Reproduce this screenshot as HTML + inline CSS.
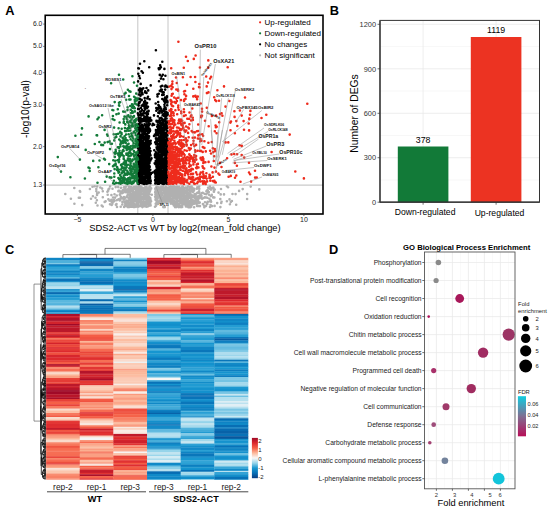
<!DOCTYPE html>
<html><head><meta charset="utf-8"><style>
html,body{margin:0;padding:0;background:#fff;width:550px;height:511px;overflow:hidden}
svg{display:block;font-family:"Liberation Sans",sans-serif}
</style></head><body>
<svg width="550" height="511" viewBox="0 0 550 511">
<rect width="550" height="511" fill="#fff"/>
<text x="5.2" y="14.9" font-size="12.8" text-anchor="start" font-weight="700" fill="#000" >A</text>
<text x="329.8" y="15.1" font-size="12.8" text-anchor="start" font-weight="700" fill="#000" >B</text>
<text x="5.0" y="254.3" font-size="12.8" text-anchor="start" font-weight="700" fill="#000" >C</text>
<text x="329.0" y="254.3" font-size="12.8" text-anchor="start" font-weight="700" fill="#000" >D</text>
<line x1="137.8" y1="15.3" x2="137.8" y2="214.0" stroke="#b8b8b8" stroke-width="0.8"/>
<line x1="168.0" y1="15.3" x2="168.0" y2="214.0" stroke="#b8b8b8" stroke-width="0.8"/>
<path d="M92.5 186.8h0M94.7 186.3h0M97.2 186.4h0M110.1 186.3h0M115.7 187.1h0M118.2 187.1h0M124.0 187.2h0M125.5 187.0h0M126.1 186.6h0M128.9 186.6h0M129.1 187.3h0M131.1 187.0h0M133.6 187.2h0M134.6 187.1h0M135.3 187.0h0M136.5 186.6h0M138.7 187.2h0M139.1 186.5h0M140.1 186.4h0M141.4 186.7h0M145.7 186.8h0M146.5 186.6h0M149.4 186.8h0M150.0 186.3h0M156.7 186.6h0M161.0 187.2h0M161.4 186.8h0M162.6 186.4h0M165.7 186.6h0M170.7 186.4h0M172.3 186.5h0M173.8 186.4h0M174.2 186.5h0M176.7 187.2h0M177.0 186.5h0M178.7 187.2h0M179.2 186.9h0M181.9 187.2h0M182.5 186.4h0M183.0 186.9h0M188.1 186.4h0M189.5 187.3h0M190.2 187.0h0M191.6 186.5h0M197.3 187.2h0M199.2 186.5h0M209.9 186.4h0M226.9 186.3h0M228.1 187.3h0M250.7 186.6h0M74.3 188.0h0M100.3 187.5h0M120.9 188.0h0M121.1 187.7h0M124.4 188.2h0M125.1 187.7h0M129.2 187.4h0M131.9 187.9h0M132.7 187.5h0M137.1 187.7h0M139.9 188.2h0M141.2 188.1h0M142.5 188.1h0M143.2 188.2h0M144.4 187.7h0M146.6 187.8h0M148.6 188.3h0M149.8 187.8h0M150.3 187.5h0M156.0 187.8h0M156.8 187.9h0M158.7 187.3h0M159.4 187.6h0M160.6 188.0h0M161.5 188.1h0M163.0 187.3h0M163.8 187.5h0M164.2 188.3h0M166.5 187.5h0M167.2 188.0h0M168.3 187.9h0M169.3 187.4h0M171.7 187.6h0M172.6 187.6h0M173.8 187.4h0M174.0 187.8h0M175.5 187.5h0M176.3 188.0h0M179.9 188.2h0M181.0 188.3h0M181.8 188.0h0M184.8 188.0h0M186.0 188.0h0M186.0 187.5h0M191.2 187.4h0M192.4 187.7h0M208.1 187.8h0M211.9 188.0h0M213.3 187.6h0M89.9 189.0h0M96.3 189.0h0M102.1 188.6h0M109.3 188.6h0M112.5 188.8h0M125.0 189.0h0M126.0 189.2h0M128.3 188.8h0M131.0 188.9h0M133.9 188.9h0M134.2 189.1h0M135.9 189.2h0M136.4 189.1h0M138.5 188.4h0M139.1 188.7h0M140.9 189.1h0M142.9 188.6h0M143.5 189.3h0M144.1 188.7h0M145.7 188.5h0M146.2 188.8h0M147.3 188.8h0M149.7 188.7h0M151.1 188.4h0M155.3 188.5h0M156.8 188.4h0M158.0 188.6h0M158.9 188.7h0M160.6 189.1h0M161.8 189.3h0M163.7 189.2h0M164.0 188.5h0M165.1 188.5h0M168.0 189.1h0M169.2 188.4h0M170.5 188.9h0M171.5 188.7h0M173.8 188.9h0M175.3 188.8h0M176.6 189.3h0M177.2 188.4h0M179.0 188.7h0M183.0 189.3h0M183.2 188.9h0M184.2 189.1h0M187.0 188.9h0M188.8 189.2h0M189.5 189.1h0M192.1 188.7h0M193.4 188.7h0M194.1 188.9h0M196.7 188.7h0M197.9 188.4h0M199.3 188.7h0M210.2 189.0h0M213.6 188.4h0M221.0 189.0h0M242.7 189.1h0M108.5 189.3h0M122.9 190.1h0M129.1 189.6h0M131.0 189.8h0M132.4 190.0h0M133.5 189.8h0M136.1 190.0h0M137.0 189.4h0M138.9 189.8h0M140.7 189.8h0M142.3 190.1h0M147.7 190.0h0M148.0 190.2h0M150.4 189.4h0M155.4 189.3h0M159.7 190.2h0M160.3 189.4h0M161.1 189.9h0M162.7 190.1h0M163.0 189.7h0M164.7 189.6h0M166.5 190.0h0M170.1 189.3h0M171.7 189.5h0M172.2 189.9h0M175.1 189.5h0M176.3 189.7h0M177.9 189.7h0M178.3 189.9h0M179.5 189.8h0M181.9 189.6h0M182.4 189.3h0M186.9 190.1h0M188.3 190.0h0M190.0 190.3h0M192.5 189.5h0M194.0 189.4h0M207.3 190.2h0M211.0 189.6h0M213.8 190.0h0M214.8 189.5h0M259.3 189.4h0M79.8 191.1h0M96.3 191.1h0M102.8 191.2h0M108.2 190.8h0M118.6 190.7h0M119.3 190.9h0M125.2 191.1h0M127.3 190.9h0M128.2 190.8h0M129.3 190.8h0M130.4 191.1h0M131.4 190.8h0M136.5 190.4h0M138.1 190.9h0M139.7 190.6h0M141.1 190.8h0M143.1 190.7h0M144.4 190.7h0M146.3 190.8h0M148.1 190.5h0M150.0 190.9h0M150.2 190.6h0M156.6 191.0h0M158.2 190.7h0M159.2 190.3h0M161.5 190.6h0M165.8 190.7h0M166.6 190.4h0M168.8 190.7h0M169.8 190.4h0M171.3 190.3h0M172.9 191.1h0M173.8 190.6h0M174.4 190.7h0M175.5 191.0h0M177.4 190.9h0M178.1 190.3h0M180.1 191.1h0M182.1 191.2h0M183.1 191.0h0M185.0 191.2h0M185.8 190.5h0M187.2 191.0h0M189.8 190.7h0M190.7 191.0h0M191.2 191.0h0M193.4 191.2h0M194.0 190.4h0M199.1 191.2h0M206.9 190.8h0M207.8 190.4h0M239.1 190.9h0M80.2 191.8h0M107.4 191.7h0M118.3 191.3h0M120.2 191.4h0M121.9 191.4h0M125.9 192.3h0M128.8 191.7h0M129.6 191.4h0M132.9 192.2h0M133.6 192.1h0M134.2 192.3h0M135.9 191.8h0M141.3 192.1h0M144.3 192.0h0M145.1 192.0h0M146.8 192.0h0M148.0 191.5h0M148.7 191.3h0M149.6 192.2h0M155.3 191.5h0M156.6 192.0h0M157.9 191.9h0M159.9 192.1h0M160.6 192.2h0M161.1 191.3h0M164.6 191.8h0M165.7 191.4h0M166.5 191.7h0M169.5 191.9h0M171.3 192.2h0M172.5 192.2h0M173.9 191.8h0M174.5 191.7h0M175.9 192.1h0M176.3 191.4h0M177.8 191.8h0M180.9 191.8h0M181.7 191.7h0M182.8 192.2h0M183.7 192.0h0M184.4 192.2h0M185.3 191.8h0M186.8 192.3h0M187.5 192.3h0M190.6 191.7h0M192.9 191.9h0M198.3 192.2h0M199.1 192.1h0M206.4 191.3h0M208.8 192.0h0M213.8 191.7h0M214.0 191.8h0M97.2 193.2h0M98.7 192.5h0M122.3 193.1h0M123.4 192.4h0M127.4 192.5h0M132.8 192.6h0M133.7 193.2h0M134.9 193.2h0M135.3 192.8h0M136.2 192.6h0M137.7 192.6h0M138.8 192.7h0M139.1 192.7h0M140.7 192.7h0M141.4 193.1h0M143.9 192.3h0M144.7 193.1h0M145.1 192.6h0M146.3 192.8h0M147.4 192.8h0M148.0 192.5h0M155.2 192.4h0M157.0 192.3h0M157.7 192.7h0M158.2 192.7h0M160.9 193.1h0M162.8 193.2h0M163.1 192.7h0M164.1 193.2h0M166.3 192.9h0M167.5 193.0h0M168.0 192.6h0M170.9 193.1h0M171.0 192.7h0M172.4 192.4h0M174.3 192.7h0M176.7 192.5h0M177.8 193.0h0M178.9 192.7h0M179.8 192.9h0M181.7 192.8h0M183.2 193.2h0M186.3 192.4h0M187.4 192.3h0M188.3 192.9h0M197.3 192.9h0M198.9 193.1h0M202.7 192.7h0M207.6 192.6h0M218.5 192.6h0M65.3 194.0h0M97.4 193.5h0M114.5 194.3h0M120.4 193.7h0M129.3 194.2h0M130.4 193.4h0M132.0 193.4h0M135.9 193.4h0M136.4 193.6h0M137.6 194.3h0M139.4 193.5h0M140.3 193.9h0M141.6 193.9h0M142.3 194.0h0M143.1 193.5h0M144.8 194.1h0M145.8 193.7h0M146.8 193.8h0M147.2 193.6h0M148.5 193.6h0M149.4 194.2h0M155.4 194.2h0M156.8 193.9h0M157.7 194.2h0M158.3 194.0h0M161.3 193.5h0M162.3 193.9h0M163.8 193.3h0M165.7 193.4h0M166.6 193.3h0M167.6 194.3h0M168.8 194.2h0M169.7 193.7h0M170.7 193.4h0M171.7 193.6h0M172.5 193.9h0M173.4 193.9h0M174.2 194.2h0M175.5 193.3h0M177.8 193.7h0M179.1 194.3h0M181.6 193.3h0M183.1 193.9h0M184.6 193.6h0M187.0 193.7h0M189.7 193.5h0M194.7 194.0h0M195.8 194.1h0M201.5 193.3h0M204.5 193.8h0M206.3 194.2h0M232.5 194.0h0M235.6 194.1h0M247.2 194.1h0M97.0 195.0h0M107.7 194.7h0M111.4 195.1h0M119.8 194.7h0M120.0 195.0h0M127.8 195.0h0M131.9 194.3h0M133.7 194.7h0M134.5 194.6h0M135.2 195.0h0M136.5 194.7h0M138.1 194.7h0M140.3 194.4h0M141.7 194.3h0M143.2 194.8h0M144.1 194.4h0M146.8 194.7h0M148.3 194.7h0M151.8 194.7h0M155.6 194.8h0M157.5 195.2h0M159.1 194.6h0M160.6 194.4h0M161.7 194.7h0M165.1 194.8h0M166.9 195.1h0M167.3 194.6h0M169.4 195.1h0M173.2 195.2h0M174.6 194.8h0M177.3 195.0h0M178.9 194.3h0M179.3 194.9h0M180.6 194.5h0M181.4 194.6h0M182.1 194.6h0M186.9 194.7h0M188.7 195.3h0M190.2 194.7h0M191.3 194.6h0M194.7 195.0h0M200.6 194.8h0M209.1 194.8h0M211.8 194.9h0M220.7 194.4h0M224.0 194.4h0M92.9 196.3h0M116.8 195.5h0M127.4 195.6h0M130.3 195.6h0M132.2 196.0h0M133.5 195.7h0M134.1 195.5h0M136.5 195.7h0M138.7 196.3h0M139.1 195.3h0M140.3 196.2h0M145.0 195.6h0M147.2 195.5h0M148.0 195.6h0M155.5 196.0h0M157.1 195.9h0M158.9 196.2h0M159.9 195.7h0M160.5 195.5h0M161.7 195.5h0M162.5 195.4h0M166.2 195.6h0M168.1 195.9h0M169.0 196.1h0M170.6 195.6h0M171.1 196.0h0M172.7 195.4h0M173.8 195.7h0M175.9 195.6h0M176.8 195.6h0M177.8 196.3h0M178.8 195.9h0M180.6 196.0h0M181.2 195.3h0M183.0 195.6h0M183.3 195.7h0M185.3 196.1h0M189.9 195.9h0M192.0 195.5h0M193.2 196.0h0M194.5 195.3h0M195.4 195.8h0M200.0 195.7h0M201.5 195.9h0M210.8 196.1h0M102.8 197.2h0M120.9 196.9h0M121.3 197.2h0M124.0 197.0h0M126.6 196.7h0M127.5 197.1h0M129.0 197.2h0M129.9 196.9h0M132.5 196.7h0M133.7 196.8h0M134.6 196.6h0M135.7 196.8h0M137.3 196.9h0M138.9 196.8h0M140.5 196.7h0M141.6 197.1h0M143.4 196.5h0M145.0 196.8h0M145.3 197.2h0M147.1 196.4h0M149.1 196.8h0M155.1 196.7h0M157.7 196.9h0M159.6 196.3h0M160.9 197.1h0M163.8 196.9h0M164.9 196.4h0M165.4 196.7h0M166.7 196.6h0M168.0 196.4h0M170.5 196.6h0M173.5 197.2h0M174.9 196.7h0M175.6 196.7h0M177.9 196.5h0M178.7 197.2h0M180.3 196.9h0M181.5 197.3h0M184.0 196.4h0M185.0 197.3h0M186.6 196.7h0M187.9 196.6h0M188.3 196.5h0M191.0 197.2h0M193.0 196.8h0M193.2 196.6h0M196.0 197.1h0M196.6 196.4h0M197.2 197.1h0M198.5 196.4h0M200.9 196.4h0M78.8 197.7h0M79.9 197.7h0M95.5 197.8h0M113.1 197.5h0M115.1 197.6h0M120.6 198.3h0M121.3 198.1h0M123.1 197.7h0M124.0 197.4h0M125.4 197.7h0M128.7 198.2h0M129.9 197.4h0M130.1 198.1h0M131.9 197.4h0M132.8 198.0h0M133.0 198.0h0M134.5 198.1h0M136.1 198.3h0M137.3 198.3h0M138.2 197.9h0M141.0 197.3h0M141.2 198.3h0M143.3 197.5h0M145.8 197.9h0M147.9 198.0h0M150.2 197.7h0M155.7 198.1h0M156.5 198.1h0M157.9 197.5h0M158.2 197.8h0M160.0 197.5h0M160.6 197.4h0M161.7 198.0h0M165.9 197.4h0M166.7 197.5h0M169.3 198.0h0M173.0 197.7h0M175.4 197.8h0M176.8 198.1h0M178.4 197.4h0M181.8 198.2h0M182.7 198.2h0M183.7 198.2h0M184.5 197.5h0M185.4 198.2h0M187.6 197.7h0M188.5 197.7h0M189.6 197.7h0M190.6 197.5h0M194.6 198.0h0M195.7 197.9h0M197.3 197.7h0M199.5 198.2h0M200.6 197.5h0M203.5 198.0h0M204.9 197.4h0M206.5 197.5h0M207.3 197.8h0M213.2 197.4h0M214.4 197.5h0M70.9 198.7h0M91.0 198.8h0M123.4 199.1h0M130.3 199.0h0M133.6 199.0h0M134.9 198.7h0M136.5 198.7h0M137.4 198.4h0M138.4 199.0h0M139.3 198.3h0M141.6 198.8h0M142.6 198.9h0M143.8 199.3h0M144.4 198.3h0M145.2 198.6h0M146.4 198.9h0M147.9 198.8h0M150.3 199.2h0M155.9 198.9h0M156.8 198.9h0M157.8 198.5h0M162.8 198.9h0M164.5 199.1h0M165.8 198.8h0M166.8 199.1h0M168.5 199.1h0M169.2 198.6h0M170.5 198.3h0M171.1 198.7h0M172.8 198.8h0M174.9 198.5h0M176.3 199.1h0M177.4 198.9h0M182.2 199.3h0M183.3 198.4h0M184.8 198.7h0M185.8 198.9h0M186.5 199.0h0M187.9 198.9h0M190.8 198.7h0M191.5 198.7h0M195.6 198.9h0M197.8 198.3h0M202.1 198.7h0M209.4 198.7h0M220.3 199.1h0M247.1 199.0h0M108.4 199.3h0M111.4 199.7h0M113.9 200.1h0M118.5 199.4h0M120.5 199.5h0M123.9 199.6h0M124.3 199.3h0M129.8 200.0h0M131.2 200.2h0M132.2 199.6h0M134.2 200.0h0M137.1 199.3h0M139.8 199.9h0M141.0 199.7h0M143.5 199.9h0M145.9 199.3h0M146.5 200.0h0M147.1 199.9h0M148.6 199.7h0M149.8 200.0h0M150.5 199.3h0M155.5 199.8h0M156.9 199.9h0M157.2 199.8h0M160.4 199.8h0M161.2 199.9h0M162.8 199.9h0M164.4 200.0h0M166.7 199.6h0M167.7 199.9h0M169.0 200.0h0M170.2 199.8h0M171.1 200.0h0M172.3 200.0h0M176.5 199.6h0M177.3 200.2h0M180.0 199.4h0M181.9 199.5h0M182.9 199.7h0M184.0 199.6h0M185.0 199.3h0M190.8 199.7h0M191.2 199.3h0M195.5 199.6h0M198.0 199.4h0M229.5 199.4h0M96.9 200.3h0M105.6 201.2h0M109.5 200.6h0M112.0 200.4h0M114.3 201.1h0M116.7 200.3h0M119.8 200.5h0M126.5 200.5h0M128.1 200.8h0M130.7 201.0h0M132.9 200.8h0M133.6 200.9h0M135.8 200.8h0M137.9 200.9h0M138.1 201.2h0M140.5 200.5h0M143.5 201.0h0M146.0 201.3h0M146.5 201.1h0M147.1 200.5h0M150.7 201.1h0M151.1 201.2h0M156.4 200.6h0M157.6 201.0h0M159.9 201.0h0M161.6 201.1h0M163.7 200.5h0M165.8 200.8h0M166.0 200.5h0M167.1 201.2h0M168.9 200.5h0M169.5 200.9h0M170.2 200.4h0M171.3 200.4h0M174.1 200.9h0M176.6 200.4h0M177.3 200.5h0M178.4 201.3h0M179.7 200.8h0M180.8 200.5h0M182.1 201.0h0M184.6 201.2h0M185.1 200.6h0M186.4 201.1h0M187.1 200.4h0M190.0 201.1h0M191.2 200.3h0M192.9 200.3h0M194.0 201.1h0M197.3 200.3h0M198.2 201.0h0M209.9 201.2h0M210.7 200.4h0M226.9 201.2h0M231.9 201.0h0M104.7 201.9h0M111.4 201.6h0M113.1 201.8h0M122.4 201.9h0M124.7 201.9h0M130.9 202.1h0M131.5 201.6h0M132.7 201.7h0M133.3 202.1h0M135.5 201.3h0M136.6 201.9h0M137.1 202.1h0M138.4 201.6h0M139.9 202.1h0M141.6 201.7h0M142.1 202.2h0M143.9 202.0h0M145.0 201.8h0M145.5 201.5h0M147.1 201.7h0M149.0 201.5h0M150.4 202.1h0M156.6 201.9h0M157.5 201.6h0M160.7 201.7h0M161.9 201.9h0M163.5 201.6h0M165.2 201.9h0M167.0 201.9h0M167.1 201.8h0M168.6 201.5h0M169.1 201.5h0M172.3 202.0h0M174.8 201.8h0M175.7 201.5h0M176.6 201.5h0M180.9 202.2h0M182.6 201.8h0M185.9 202.1h0M186.1 201.9h0M187.0 201.6h0M188.9 201.8h0M189.0 201.4h0M190.7 201.4h0M192.5 202.0h0M193.9 202.1h0M194.7 201.8h0M196.9 201.4h0M207.7 201.9h0M211.1 201.8h0M221.6 201.8h0M230.8 201.9h0M95.8 202.8h0M126.5 202.4h0M128.8 202.5h0M130.4 202.7h0M131.1 202.4h0M133.3 202.7h0M136.7 203.3h0M138.0 203.0h0M138.1 203.1h0M140.1 202.5h0M141.9 202.9h0M142.9 202.5h0M143.8 202.7h0M145.3 202.8h0M147.0 202.7h0M156.4 203.1h0M157.8 202.5h0M160.2 202.6h0M161.9 202.4h0M162.8 202.3h0M170.9 202.6h0M171.5 202.3h0M172.8 202.6h0M174.7 203.3h0M175.5 202.3h0M180.5 202.5h0M181.8 203.2h0M182.1 202.8h0M183.8 202.9h0M184.2 203.3h0M186.8 202.6h0M188.0 202.9h0M189.4 202.6h0M190.3 202.7h0M191.7 202.8h0M193.0 202.4h0M194.4 202.5h0M195.7 203.2h0M196.0 203.0h0M197.0 202.5h0M198.6 202.8h0M199.8 202.6h0M205.0 202.3h0M207.2 202.9h0M217.2 203.1h0M221.2 203.0h0M74.4 203.7h0M110.0 204.2h0M112.4 203.8h0M116.5 204.0h0M124.9 203.4h0M126.7 203.4h0M128.5 204.2h0M129.8 203.8h0M130.5 203.7h0M132.6 203.5h0M133.8 203.9h0M135.9 204.2h0M137.7 203.4h0M141.0 203.8h0M141.3 204.1h0M143.0 204.0h0M146.1 203.5h0M148.1 204.1h0M149.1 203.4h0M150.4 204.0h0M155.7 203.7h0M156.2 204.3h0M157.9 203.9h0M170.8 203.6h0M172.9 203.9h0M173.8 204.2h0M174.0 203.3h0M175.5 203.6h0M177.0 203.5h0M178.3 204.0h0M179.5 203.8h0M183.3 203.9h0M185.5 203.4h0M186.2 203.5h0M187.0 204.3h0M188.7 203.6h0M190.2 204.0h0M191.5 203.7h0M194.1 203.7h0M196.6 204.0h0M202.9 204.0h0M207.3 204.0h0M229.9 204.2h0M82.2 205.1h0M111.7 204.9h0M115.9 204.7h0M122.3 204.5h0M125.4 204.9h0M126.1 204.6h0M128.8 204.4h0M129.8 205.2h0M131.1 204.6h0M132.2 204.3h0M133.0 204.6h0M135.4 204.6h0M136.5 204.4h0M137.0 204.9h0M138.1 204.7h0M139.9 205.2h0M141.6 204.7h0M143.4 204.5h0M144.9 204.4h0M145.8 204.5h0M150.0 204.7h0M175.8 204.4h0M176.8 204.3h0M178.0 205.1h0M184.7 204.5h0M187.6 204.4h0M188.3 204.4h0M189.6 204.4h0M191.2 205.3h0M192.3 204.6h0M210.5 205.1h0M236.2 204.8h0M97.5 205.5h0M101.7 205.6h0M125.8 206.0h0M126.4 206.2h0M127.8 206.1h0M129.7 206.3h0M131.7 206.0h0M132.4 206.2h0M134.9 206.0h0M135.5 205.8h0M137.7 206.1h0M138.9 206.1h0M139.4 206.0h0M140.8 205.9h0M142.1 205.6h0M144.1 205.6h0M145.2 206.2h0M148.5 206.0h0M149.9 205.3h0M150.6 205.4h0M155.9 205.9h0M156.0 205.8h0M173.8 205.5h0M175.1 205.9h0M176.8 206.0h0M177.8 206.2h0M178.5 206.1h0M179.1 205.4h0M181.6 205.6h0M182.2 205.8h0M186.7 206.1h0M190.9 205.6h0M197.0 205.9h0M198.5 205.9h0M200.0 206.1h0M203.9 205.5h0M206.0 205.9h0M212.0 206.1h0M214.6 205.9h0M102.8 206.5h0M117.0 206.9h0M120.7 206.8h0M124.1 206.9h0M127.3 206.4h0M128.0 207.1h0M129.4 206.9h0M130.7 206.8h0M132.1 206.6h0M133.5 206.9h0M134.8 206.9h0M136.7 206.6h0M138.5 206.6h0M142.4 207.1h0M143.4 206.3h0M146.4 206.7h0M147.7 206.4h0M155.0 206.7h0M163.3 207.1h0M164.8 207.1h0M175.0 207.1h0M176.1 207.1h0M177.2 206.5h0M178.6 207.1h0M179.8 206.5h0M180.4 207.0h0M181.1 207.1h0M182.2 207.0h0M185.9 206.5h0M187.7 206.5h0M188.4 207.2h0M189.3 206.9h0M190.3 207.2h0M191.2 206.8h0M194.1 207.3h0M204.3 207.2h0M210.0 207.0h0M220.4 207.1h0" stroke="#b0b0b0" stroke-width="2.6" stroke-linecap="round" fill="none"/>
<line x1="45.2" y1="185.1" x2="323.0" y2="185.1" stroke="#bdbdbd" stroke-width="1"/>
<path d="M144.3 61.2h0M140.0 63.8h0M160.2 65.4h0M149.2 67.3h0M160.5 67.5h0M160.9 67.2h0M138.3 68.3h0M158.7 68.2h0M164.4 68.9h0M159.0 69.3h0M142.9 72.7h0M138.3 73.8h0M159.8 74.9h0M162.8 74.8h0M165.4 75.7h0M139.2 76.1h0M161.7 76.2h0M139.9 78.3h0M160.9 78.6h0M163.4 79.2h0M138.1 81.4h0M159.0 81.3h0M140.7 83.9h0M150.7 85.4h0M162.2 85.8h0M165.6 85.6h0M160.8 86.6h0M164.8 86.5h0M166.5 86.6h0M167.5 86.9h0M146.5 88.0h0M139.8 88.5h0M140.9 88.9h0M143.3 88.3h0M138.9 90.0h0M142.2 89.4h0M161.0 89.5h0M162.0 89.7h0M165.2 89.6h0M141.0 90.5h0M141.8 90.6h0M148.2 90.4h0M159.8 90.7h0M139.7 91.9h0M145.2 91.3h0M160.9 91.1h0M142.2 92.8h0M145.2 92.4h0M146.5 92.9h0M162.6 92.2h0M163.7 92.4h0M158.8 93.8h0M138.8 94.5h0M140.6 94.4h0M142.6 94.3h0M157.4 94.5h0M162.2 94.9h0M163.7 94.7h0M140.5 95.7h0M148.0 96.8h0M157.5 96.5h0M167.0 96.2h0M165.0 97.6h0M167.0 97.1h0M138.9 98.8h0M139.8 98.9h0M144.7 98.1h0M147.3 98.4h0M162.3 99.0h0M166.2 98.0h0M141.7 99.9h0M149.6 99.3h0M163.7 99.9h0M164.9 99.6h0M166.4 99.1h0M145.0 100.8h0M139.4 102.0h0M140.1 101.7h0M164.1 101.3h0M166.0 101.7h0M167.4 101.4h0M139.7 102.6h0M144.0 102.1h0M146.1 102.7h0M158.2 102.0h0M165.1 102.7h0M167.4 102.4h0M138.9 103.2h0M146.0 103.1h0M147.1 103.1h0M155.7 103.5h0M138.1 104.8h0M143.3 104.2h0M144.8 104.1h0M164.4 104.7h0M138.7 105.6h0M141.7 105.5h0M142.9 105.8h0M145.5 105.7h0M146.3 105.1h0M158.4 105.0h0M159.0 105.8h0M167.2 105.2h0M144.9 106.3h0M148.0 106.7h0M164.6 106.8h0M140.9 107.8h0M144.6 107.9h0M147.1 107.2h0M158.1 107.7h0M160.3 107.4h0M165.6 107.8h0M138.1 108.9h0M147.1 108.1h0M156.3 108.0h0M158.8 108.6h0M161.2 108.7h0M164.5 108.7h0M165.1 108.0h0M139.1 109.1h0M142.1 109.9h0M145.1 109.4h0M157.0 109.5h0M161.4 109.5h0M164.2 109.0h0M165.8 109.3h0M148.6 110.7h0M156.3 110.7h0M161.1 110.7h0M162.3 110.7h0M164.3 110.8h0M140.1 111.8h0M140.9 111.2h0M143.8 111.3h0M146.9 111.7h0M148.6 111.2h0M159.4 111.1h0M164.4 111.2h0M143.6 112.4h0M158.3 112.8h0M162.0 112.6h0M164.8 112.8h0M164.8 112.8h0M166.4 112.0h0M167.6 113.0h0M137.8 113.2h0M140.6 113.4h0M141.4 114.0h0M142.6 113.9h0M143.3 113.7h0M145.4 113.2h0M146.2 113.1h0M147.5 113.5h0M148.0 113.9h0M159.5 113.1h0M166.8 113.4h0M166.9 113.4h0M138.1 114.7h0M139.8 114.7h0M140.3 114.9h0M141.0 114.1h0M143.0 115.0h0M147.0 114.6h0M164.1 114.1h0M165.5 114.4h0M166.1 114.2h0M167.7 114.8h0M141.6 115.5h0M147.1 115.2h0M154.0 115.4h0M162.6 115.3h0M166.1 116.0h0M166.8 115.5h0M144.4 116.5h0M145.0 116.7h0M146.4 116.9h0M146.9 116.0h0M157.9 116.2h0M164.1 116.0h0M165.2 116.1h0M165.9 116.5h0M138.6 117.3h0M140.5 117.9h0M144.2 117.9h0M145.8 117.1h0M147.6 117.0h0M150.2 117.9h0M161.3 117.9h0M165.5 117.4h0M138.7 118.5h0M139.7 118.3h0M141.6 118.8h0M146.5 118.7h0M148.3 118.3h0M149.2 118.9h0M159.7 118.3h0M161.9 118.9h0M166.6 118.5h0M138.5 119.8h0M140.0 119.5h0M143.5 119.1h0M144.4 119.6h0M164.5 119.2h0M165.0 119.9h0M140.9 120.6h0M142.6 120.6h0M143.8 120.9h0M143.9 120.5h0M145.9 120.8h0M147.6 120.7h0M150.0 120.5h0M151.3 120.4h0M156.5 120.8h0M158.8 120.5h0M159.9 120.7h0M161.8 120.1h0M163.3 120.2h0M164.0 120.4h0M165.4 120.8h0M139.2 121.0h0M140.4 121.5h0M141.8 121.4h0M142.6 121.1h0M145.2 121.3h0M146.3 121.7h0M147.8 121.5h0M150.2 121.3h0M156.6 121.4h0M157.0 121.5h0M159.8 121.2h0M165.4 121.3h0M167.1 121.5h0M140.3 122.2h0M148.6 122.8h0M157.7 122.2h0M159.3 122.6h0M160.3 122.8h0M162.1 122.6h0M163.2 122.2h0M167.0 122.8h0M139.8 123.1h0M149.8 124.0h0M152.8 123.8h0M160.1 123.1h0M163.1 123.5h0M165.5 123.9h0M165.9 123.3h0M167.5 123.4h0M138.0 124.6h0M139.0 124.1h0M141.8 124.5h0M144.5 124.4h0M146.6 124.2h0M147.3 125.0h0M148.7 124.6h0M149.2 125.0h0M154.2 124.7h0M157.7 124.7h0M161.1 124.3h0M163.0 124.8h0M163.8 124.7h0M138.2 125.8h0M139.7 125.6h0M140.0 125.6h0M144.5 125.2h0M145.7 125.9h0M146.9 125.5h0M152.4 125.2h0M159.3 125.5h0M160.4 125.5h0M162.3 125.3h0M163.5 125.6h0M164.5 125.8h0M139.9 126.7h0M141.4 126.7h0M142.2 126.1h0M142.9 126.9h0M146.0 126.9h0M148.4 126.4h0M157.2 126.7h0M158.9 126.3h0M160.9 126.1h0M165.0 127.0h0M166.8 126.1h0M138.0 127.9h0M145.9 127.4h0M147.4 127.7h0M148.6 127.9h0M158.5 127.2h0M159.7 127.0h0M160.5 127.5h0M160.9 128.0h0M163.8 127.1h0M165.4 127.5h0M166.1 127.8h0M138.4 128.8h0M139.1 128.2h0M140.0 128.5h0M141.3 128.1h0M142.0 128.3h0M143.1 128.7h0M144.6 128.9h0M145.3 128.3h0M145.8 128.1h0M149.6 128.9h0M158.2 128.7h0M162.3 128.1h0M164.6 128.6h0M167.3 128.1h0M139.7 129.6h0M140.9 129.8h0M142.4 129.8h0M146.6 129.1h0M147.7 129.4h0M149.0 129.2h0M157.7 129.5h0M158.8 129.6h0M161.5 129.9h0M162.3 129.2h0M165.2 129.1h0M166.2 129.5h0M137.9 130.1h0M141.9 130.4h0M143.2 130.6h0M144.5 130.4h0M145.1 130.5h0M147.6 130.3h0M148.6 130.0h0M149.6 130.6h0M150.1 130.2h0M155.9 130.0h0M156.8 130.6h0M158.6 130.5h0M158.8 130.5h0M160.1 130.1h0M163.8 130.1h0M164.2 130.6h0M138.9 131.2h0M141.4 131.4h0M142.1 131.1h0M143.1 131.1h0M144.4 131.4h0M145.0 131.7h0M146.4 131.1h0M147.0 131.1h0M149.1 131.1h0M149.9 131.2h0M156.0 131.7h0M157.5 131.4h0M158.1 131.3h0M159.2 131.7h0M161.0 132.0h0M161.9 131.5h0M163.2 131.2h0M167.4 131.3h0M139.0 132.8h0M144.3 132.4h0M148.9 132.7h0M156.2 132.1h0M157.7 132.5h0M157.9 132.8h0M160.2 132.4h0M162.6 132.4h0M163.2 132.9h0M165.7 132.7h0M167.2 132.8h0M139.2 133.3h0M142.4 133.8h0M143.5 133.5h0M144.1 133.1h0M145.0 133.5h0M147.9 133.1h0M155.9 133.7h0M157.7 133.7h0M158.2 133.6h0M160.8 133.7h0M161.3 133.8h0M162.3 133.9h0M163.4 133.1h0M164.6 133.2h0M165.6 133.8h0M138.2 134.4h0M139.1 134.5h0M140.7 135.0h0M141.9 135.0h0M144.0 134.2h0M146.0 134.0h0M154.8 134.5h0M157.8 134.9h0M160.5 134.4h0M162.9 134.9h0M163.8 134.5h0M165.0 134.5h0M166.8 134.3h0M167.0 134.9h0M138.7 135.1h0M140.6 135.7h0M141.3 135.9h0M142.2 135.9h0M143.2 135.4h0M146.3 135.4h0M147.5 135.4h0M156.1 135.5h0M161.4 135.7h0M164.5 135.1h0M165.4 135.9h0M167.4 135.4h0M138.5 136.1h0M138.9 136.9h0M140.7 136.2h0M143.7 136.8h0M143.9 136.3h0M145.5 136.8h0M147.6 136.4h0M148.0 136.5h0M149.1 136.2h0M154.0 136.0h0M159.4 136.3h0M160.5 136.6h0M161.5 136.1h0M163.6 136.6h0M164.6 136.4h0M165.1 136.4h0M166.2 136.6h0M139.5 137.7h0M139.9 137.3h0M140.9 137.3h0M142.3 137.7h0M142.9 137.5h0M144.4 137.1h0M146.7 137.4h0M148.9 137.8h0M158.6 137.9h0M159.8 137.9h0M160.5 137.0h0M161.4 137.4h0M164.4 137.4h0M164.8 137.5h0M140.2 138.6h0M141.0 138.5h0M143.7 138.7h0M145.3 138.3h0M147.0 138.1h0M148.2 138.0h0M155.9 138.2h0M157.1 139.0h0M159.7 138.2h0M160.8 138.5h0M161.6 138.9h0M163.8 138.0h0M163.8 138.2h0M166.5 138.5h0M167.5 138.8h0M138.2 139.4h0M139.4 139.7h0M140.2 139.2h0M143.5 139.8h0M144.8 139.0h0M146.4 139.1h0M147.3 139.7h0M156.1 139.7h0M157.9 139.7h0M159.1 139.2h0M161.5 139.6h0M163.1 139.4h0M163.9 139.8h0M167.7 139.2h0M138.3 140.6h0M139.4 140.4h0M141.0 140.7h0M142.7 140.4h0M143.2 140.4h0M145.8 140.5h0M146.8 140.1h0M147.1 140.7h0M148.8 140.6h0M150.7 140.7h0M156.8 140.9h0M159.0 140.9h0M160.7 140.4h0M163.6 140.3h0M165.6 140.1h0M166.7 141.0h0M167.6 140.9h0M139.0 141.3h0M140.0 142.0h0M141.9 141.4h0M146.7 141.3h0M147.0 141.5h0M157.6 141.3h0M161.0 141.9h0M162.8 141.4h0M163.3 141.3h0M165.0 141.4h0M166.4 141.9h0M137.9 142.4h0M143.4 142.5h0M145.8 142.2h0M149.2 142.7h0M150.0 142.0h0M155.2 142.4h0M156.6 142.3h0M156.8 142.9h0M160.2 142.2h0M163.5 142.5h0M164.5 142.6h0M165.4 142.0h0M166.5 142.1h0M167.1 142.4h0M138.8 143.1h0M139.5 143.5h0M140.8 143.9h0M141.1 143.5h0M144.7 144.0h0M144.8 143.6h0M146.9 143.8h0M148.3 143.7h0M148.9 143.5h0M150.7 143.4h0M158.2 143.9h0M160.6 143.9h0M161.8 143.3h0M167.3 143.5h0M138.7 144.9h0M142.8 144.3h0M145.7 144.1h0M145.9 144.9h0M148.7 144.7h0M149.7 144.5h0M156.0 144.2h0M157.0 144.6h0M158.0 144.0h0M159.1 144.0h0M160.7 144.8h0M162.8 144.3h0M163.3 144.9h0M164.2 144.4h0M165.5 144.9h0M166.8 144.1h0M138.1 145.7h0M139.0 145.6h0M141.2 145.0h0M142.4 145.1h0M143.2 145.3h0M145.1 145.5h0M147.4 145.7h0M159.5 145.9h0M160.2 145.4h0M161.6 145.8h0M167.7 145.1h0M139.0 146.5h0M140.2 146.7h0M141.5 146.4h0M142.8 146.4h0M142.8 146.0h0M144.3 146.6h0M145.6 146.3h0M146.7 146.5h0M147.0 146.1h0M148.0 146.7h0M148.9 146.6h0M157.6 146.9h0M158.4 146.6h0M159.5 146.7h0M161.6 146.0h0M163.1 146.5h0M164.5 146.3h0M165.3 146.1h0M167.2 147.0h0M138.9 148.0h0M143.3 147.7h0M144.7 147.8h0M145.4 147.1h0M145.8 147.5h0M148.1 147.3h0M156.6 147.2h0M157.7 147.1h0M158.9 147.4h0M159.9 147.2h0M161.1 147.3h0M163.8 147.2h0M166.4 147.8h0M137.9 148.2h0M140.0 148.7h0M141.5 148.3h0M141.9 148.0h0M143.7 148.6h0M145.2 148.8h0M146.5 148.4h0M147.2 148.5h0M149.9 148.2h0M156.8 148.3h0M157.6 148.5h0M159.7 148.7h0M160.4 148.6h0M161.3 148.8h0M162.9 148.5h0M163.9 148.6h0M166.3 148.0h0M167.6 149.0h0M138.9 149.3h0M140.5 149.1h0M141.4 149.8h0M142.0 149.1h0M143.0 149.5h0M145.4 149.6h0M146.4 149.8h0M147.3 149.6h0M148.5 149.0h0M157.2 149.6h0M158.6 149.7h0M158.9 149.6h0M160.4 149.4h0M161.1 149.0h0M162.4 149.5h0M165.3 149.1h0M138.9 150.1h0M140.1 150.9h0M141.0 150.2h0M142.3 150.2h0M143.2 150.9h0M143.8 150.3h0M145.8 150.9h0M147.3 151.0h0M148.1 150.6h0M149.2 150.5h0M154.3 150.3h0M159.5 150.2h0M161.4 150.5h0M162.7 150.4h0M163.9 150.7h0M166.7 150.9h0M138.3 151.2h0M139.3 151.6h0M140.7 151.5h0M142.8 151.3h0M144.6 151.2h0M144.9 151.7h0M145.9 151.0h0M146.9 151.3h0M147.8 151.2h0M150.5 151.1h0M158.4 151.3h0M159.2 151.5h0M161.8 151.6h0M162.6 151.5h0M163.3 151.3h0M164.1 151.7h0M165.3 151.3h0M165.9 152.0h0M167.3 151.9h0M138.7 152.4h0M142.3 152.4h0M142.9 152.3h0M146.7 153.0h0M147.8 152.9h0M148.5 152.9h0M149.8 152.0h0M155.9 152.2h0M158.4 152.9h0M160.7 152.0h0M161.0 152.7h0M161.9 152.4h0M165.1 152.0h0M166.0 152.4h0M167.7 152.6h0M138.2 153.6h0M139.6 153.1h0M141.4 154.0h0M142.1 153.4h0M143.8 153.5h0M144.2 153.5h0M145.1 153.8h0M146.7 153.6h0M147.6 153.6h0M148.5 153.6h0M149.8 153.2h0M155.7 153.8h0M156.2 153.3h0M158.4 153.2h0M161.7 153.2h0M162.3 153.3h0M163.9 153.3h0M165.6 153.9h0M166.6 153.9h0M137.8 154.4h0M141.7 154.4h0M142.6 154.6h0M143.0 154.2h0M145.7 154.8h0M147.2 154.3h0M148.4 154.0h0M149.4 154.5h0M150.3 154.8h0M155.0 154.4h0M156.0 154.2h0M157.1 154.7h0M158.7 154.1h0M159.5 154.6h0M161.9 154.8h0M163.1 154.1h0M165.4 154.5h0M166.5 154.5h0M167.3 154.6h0M137.9 155.9h0M139.0 155.7h0M141.2 155.2h0M142.4 155.6h0M144.2 155.3h0M145.7 155.6h0M146.0 155.4h0M147.5 155.6h0M148.5 155.7h0M149.0 155.6h0M150.5 155.4h0M154.9 155.3h0M155.9 155.3h0M157.5 155.4h0M158.0 155.0h0M159.1 155.4h0M160.5 155.3h0M161.7 156.0h0M162.4 155.9h0M164.0 155.0h0M164.9 155.4h0M166.0 155.0h0M167.3 155.0h0M139.7 156.9h0M140.4 156.7h0M141.6 156.8h0M142.6 156.1h0M143.5 156.8h0M143.9 156.1h0M145.6 156.4h0M146.7 156.9h0M146.8 156.4h0M147.9 156.5h0M148.9 156.5h0M156.6 156.2h0M157.5 156.6h0M159.7 156.3h0M160.4 156.9h0M161.1 156.5h0M162.2 156.3h0M165.8 156.5h0M138.8 157.4h0M139.6 157.8h0M141.5 157.7h0M142.6 157.2h0M143.5 157.7h0M144.6 157.4h0M145.6 157.7h0M146.9 157.3h0M148.7 157.1h0M149.1 157.3h0M155.0 157.3h0M157.6 157.3h0M158.5 157.3h0M158.8 158.0h0M160.1 157.9h0M161.3 157.7h0M161.9 157.7h0M165.3 157.1h0M166.1 157.3h0M167.8 157.6h0M138.7 158.8h0M139.0 158.5h0M140.3 158.2h0M140.9 158.1h0M142.4 158.4h0M143.2 158.0h0M144.6 158.3h0M145.6 158.7h0M147.0 158.4h0M147.9 158.2h0M149.1 159.0h0M151.5 158.4h0M156.6 158.6h0M158.6 158.0h0M159.3 158.1h0M160.4 158.1h0M160.9 158.1h0M162.7 158.6h0M163.2 158.3h0M164.8 158.4h0M165.0 158.4h0M166.5 158.9h0M167.7 158.5h0M138.8 159.9h0M140.0 160.0h0M141.2 159.2h0M141.9 159.4h0M143.7 159.5h0M144.0 159.5h0M145.8 159.8h0M146.2 159.4h0M147.0 159.6h0M148.0 159.8h0M149.7 159.4h0M150.3 159.6h0M150.9 159.2h0M157.8 159.8h0M158.5 159.8h0M159.2 159.0h0M160.0 159.7h0M162.3 159.9h0M163.4 159.4h0M164.7 159.2h0M165.7 159.3h0M166.0 159.4h0M167.0 159.7h0M138.9 160.8h0M140.8 160.8h0M143.8 160.6h0M144.5 160.3h0M145.1 160.3h0M147.2 160.0h0M147.9 160.3h0M148.9 160.1h0M150.5 160.4h0M155.8 160.7h0M157.0 160.2h0M158.8 160.7h0M159.4 160.6h0M160.4 160.9h0M160.9 160.3h0M161.8 161.0h0M163.2 160.8h0M167.1 160.6h0M138.2 161.2h0M139.1 161.8h0M139.9 161.5h0M142.2 161.7h0M142.9 161.6h0M144.2 161.4h0M145.6 161.0h0M147.7 161.0h0M148.5 161.1h0M149.0 161.1h0M155.7 161.9h0M156.2 161.9h0M157.4 161.1h0M157.9 161.9h0M160.8 161.6h0M161.6 161.4h0M162.7 161.5h0M163.2 161.3h0M164.6 161.9h0M165.6 161.3h0M166.7 161.6h0M138.0 162.1h0M139.0 162.3h0M140.8 162.9h0M141.7 162.3h0M143.8 162.6h0M145.3 162.9h0M146.1 162.9h0M147.0 162.1h0M147.9 162.2h0M149.5 162.6h0M156.2 162.3h0M157.2 162.6h0M158.2 162.3h0M159.8 162.5h0M160.1 162.3h0M160.9 162.6h0M162.1 162.2h0M162.9 162.4h0M164.0 162.6h0M167.6 162.1h0M138.7 163.9h0M139.1 163.4h0M140.5 163.5h0M141.6 163.1h0M142.0 163.0h0M143.2 164.0h0M145.4 163.3h0M147.3 163.5h0M148.2 163.8h0M149.5 163.0h0M154.7 163.2h0M156.8 163.6h0M157.3 163.1h0M158.5 163.4h0M159.0 163.7h0M160.2 163.9h0M161.3 163.3h0M162.7 163.4h0M163.6 163.2h0M164.6 163.3h0M165.8 163.2h0M165.9 163.6h0M139.1 164.5h0M140.3 164.8h0M141.7 164.4h0M142.5 164.1h0M143.3 164.6h0M144.1 164.0h0M144.9 164.7h0M147.4 164.5h0M148.6 164.6h0M155.2 164.1h0M156.1 164.8h0M157.0 164.0h0M157.9 164.8h0M160.2 164.6h0M161.4 164.5h0M162.4 164.3h0M162.8 164.1h0M164.8 164.7h0M165.2 164.4h0M167.0 164.3h0M138.1 165.7h0M139.9 165.6h0M142.2 165.3h0M143.1 165.5h0M145.0 165.9h0M146.1 165.7h0M148.4 165.9h0M149.3 165.8h0M160.7 166.0h0M162.0 165.0h0M163.2 165.4h0M166.0 165.6h0M167.0 165.8h0M137.8 166.2h0M138.8 166.3h0M140.8 166.7h0M141.4 166.5h0M143.3 166.6h0M144.3 166.6h0M145.3 166.2h0M146.1 166.8h0M146.9 166.5h0M148.6 166.5h0M149.7 166.9h0M156.4 166.8h0M157.7 166.3h0M158.0 166.5h0M159.5 166.5h0M160.4 166.5h0M161.4 166.7h0M164.1 167.0h0M164.8 166.6h0M165.9 166.0h0M166.8 166.4h0M138.5 167.5h0M139.1 167.6h0M140.1 167.2h0M141.6 167.7h0M141.9 168.0h0M146.0 168.0h0M148.5 168.0h0M149.2 167.8h0M156.7 167.2h0M157.0 167.8h0M158.2 167.9h0M159.5 167.9h0M160.0 167.8h0M161.6 167.9h0M162.6 167.7h0M163.2 167.4h0M165.8 167.4h0M166.3 167.5h0M166.9 168.0h0M137.8 168.7h0M139.6 168.7h0M139.8 168.9h0M141.2 168.7h0M142.7 168.8h0M143.2 168.1h0M144.2 168.0h0M146.6 168.7h0M147.1 168.9h0M148.5 168.1h0M149.0 168.6h0M157.8 168.9h0M158.0 168.4h0M159.1 168.6h0M162.2 168.3h0M163.8 168.8h0M165.0 169.0h0M166.2 168.2h0M166.9 168.1h0M138.5 169.6h0M139.1 169.1h0M140.1 169.4h0M142.6 169.3h0M143.0 169.2h0M145.4 169.9h0M146.0 169.5h0M147.7 169.5h0M148.4 169.4h0M149.3 169.2h0M150.3 169.7h0M156.4 169.5h0M157.5 169.1h0M158.1 169.0h0M158.9 169.7h0M159.9 169.1h0M161.2 169.3h0M165.4 169.7h0M166.7 169.8h0M138.1 170.4h0M139.7 170.5h0M140.0 171.0h0M141.6 170.5h0M141.9 170.3h0M143.8 170.3h0M144.5 171.0h0M145.4 170.8h0M147.3 170.5h0M147.9 170.6h0M149.0 170.2h0M155.1 170.7h0M156.7 170.1h0M156.8 170.3h0M158.0 170.1h0M159.7 170.9h0M160.5 170.5h0M161.1 170.8h0M162.7 171.0h0M163.6 170.4h0M164.4 170.9h0M165.2 170.2h0M166.1 170.3h0M139.1 171.5h0M140.7 171.3h0M141.8 171.3h0M142.3 171.5h0M143.7 171.2h0M145.6 171.8h0M146.3 171.2h0M146.8 171.7h0M149.3 171.9h0M154.5 171.5h0M156.7 171.8h0M157.5 171.0h0M158.7 171.8h0M159.3 171.3h0M160.7 171.5h0M161.4 171.6h0M162.3 171.8h0M164.1 171.7h0M165.7 171.8h0M166.3 171.1h0M167.2 171.9h0M138.4 172.8h0M139.1 172.8h0M140.6 172.2h0M141.2 172.7h0M141.8 172.3h0M143.3 172.7h0M144.2 172.2h0M145.1 172.4h0M146.4 172.4h0M147.5 172.8h0M148.2 172.3h0M149.6 172.5h0M150.0 172.9h0M152.5 172.6h0M155.7 172.8h0M156.0 172.7h0M157.1 172.8h0M158.7 172.6h0M159.3 172.0h0M160.7 173.0h0M161.5 172.8h0M162.6 172.5h0M166.7 172.6h0M138.0 173.7h0M139.0 173.5h0M142.4 173.2h0M143.2 173.2h0M144.7 173.5h0M145.1 173.5h0M146.7 173.5h0M146.9 173.0h0M148.3 173.3h0M149.4 173.4h0M150.6 173.1h0M155.1 173.6h0M156.4 173.3h0M156.8 174.0h0M159.6 173.8h0M160.1 173.6h0M161.7 173.9h0M162.1 173.7h0M163.1 173.6h0M165.7 173.4h0M167.5 173.3h0M139.7 174.4h0M140.5 174.5h0M142.1 174.9h0M143.6 174.1h0M144.2 174.1h0M145.8 174.6h0M147.1 174.6h0M148.6 174.7h0M149.5 174.3h0M150.1 174.2h0M150.8 174.2h0M155.5 174.9h0M156.6 174.8h0M157.7 174.4h0M158.7 174.6h0M158.9 174.8h0M161.0 174.4h0M162.0 174.5h0M163.4 174.0h0M164.8 174.9h0M164.9 174.4h0M167.3 174.6h0M138.3 175.7h0M139.3 175.7h0M141.7 175.5h0M142.2 175.7h0M145.5 175.3h0M146.0 175.2h0M147.4 175.4h0M147.8 175.7h0M148.9 175.5h0M155.6 175.6h0M158.5 175.2h0M159.5 175.5h0M160.1 175.1h0M161.4 175.2h0M162.4 175.6h0M163.0 175.2h0M164.0 175.4h0M165.2 175.8h0M166.3 175.8h0M167.4 175.7h0M139.0 176.9h0M140.3 176.0h0M141.1 176.2h0M142.3 176.6h0M142.9 176.7h0M144.7 176.8h0M145.6 176.0h0M146.3 176.5h0M146.9 176.4h0M148.1 176.6h0M149.9 176.2h0M155.4 176.9h0M156.5 176.4h0M156.9 176.8h0M158.6 176.2h0M159.5 176.0h0M160.4 176.2h0M160.8 176.4h0M163.3 176.2h0M164.5 176.4h0M165.8 176.3h0M166.0 176.3h0M167.3 176.6h0M138.5 177.3h0M139.6 177.3h0M140.0 177.2h0M142.4 177.1h0M143.4 177.1h0M144.6 177.6h0M146.1 178.0h0M146.9 177.1h0M148.0 177.4h0M149.2 177.1h0M156.7 177.2h0M157.6 177.9h0M157.8 177.9h0M159.4 177.8h0M160.2 177.1h0M161.5 177.4h0M163.2 178.0h0M163.8 177.4h0M165.0 177.9h0M166.3 177.3h0M167.0 177.2h0M139.6 178.4h0M141.1 178.3h0M141.9 178.9h0M143.7 178.0h0M144.4 178.7h0M145.2 178.7h0M147.7 178.9h0M147.8 178.5h0M149.6 178.8h0M150.1 178.0h0M156.9 178.5h0M160.5 178.1h0M160.9 178.8h0M163.2 178.4h0M164.1 178.3h0M165.6 178.4h0M167.3 178.7h0M138.3 179.3h0M139.2 179.2h0M139.9 179.5h0M141.5 180.0h0M142.4 179.9h0M143.6 179.8h0M144.2 179.5h0M145.2 179.1h0M149.0 179.3h0M155.3 179.6h0M156.6 179.6h0M158.0 179.0h0M159.4 179.9h0M160.6 179.5h0M161.6 179.4h0M162.5 179.6h0M162.8 179.3h0M164.6 179.8h0M165.1 179.3h0M167.4 179.9h0M138.4 180.1h0M139.0 181.0h0M140.1 180.7h0M141.6 180.5h0M142.4 180.2h0M143.1 180.4h0M144.4 180.5h0M144.9 180.0h0M147.6 180.5h0M148.5 180.7h0M150.6 180.2h0M155.1 180.4h0M156.6 180.1h0M157.8 180.3h0M158.2 180.9h0M159.8 180.6h0M160.3 180.0h0M161.4 180.2h0M164.5 180.2h0M166.5 180.6h0M167.8 180.4h0M138.2 181.3h0M140.5 182.0h0M141.7 181.1h0M142.4 181.7h0M143.1 181.5h0M144.5 181.8h0M145.2 181.7h0M145.8 181.4h0M147.2 181.1h0M148.9 181.4h0M150.7 181.2h0M155.6 181.3h0M157.5 181.9h0M158.2 182.0h0M158.8 181.3h0M160.1 181.7h0M162.1 181.8h0M163.6 181.5h0M163.8 181.5h0M165.6 181.9h0M166.4 181.6h0M167.4 181.8h0M137.9 182.5h0M139.4 182.4h0M140.6 182.8h0M141.4 182.8h0M142.0 182.2h0M143.8 182.2h0M146.4 182.5h0M147.8 182.8h0M148.7 182.4h0M149.0 182.9h0M150.2 182.2h0M155.8 182.7h0M156.6 182.3h0M157.4 182.4h0M160.5 182.7h0M161.5 182.6h0M162.4 182.4h0M163.5 182.8h0M163.9 182.6h0M165.0 182.3h0M166.3 182.6h0M167.4 182.3h0M138.8 184.0h0M139.2 183.5h0M141.8 183.1h0M143.2 183.6h0M144.3 183.9h0M146.5 183.8h0M147.5 183.5h0M148.3 183.1h0M150.5 183.2h0M155.3 183.4h0M157.6 183.8h0M159.1 183.7h0M161.5 183.1h0M162.7 183.7h0M163.8 183.9h0M163.9 183.6h0M166.2 183.5h0M167.1 183.7h0M155.9 50.3h0M162.3 61.8h0M159.8 68.8h0M138.9 68.5h0M141.6 71.2h0" stroke="#000" stroke-width="2.6" stroke-linecap="round" fill="none"/>
<path d="M186.0 56.7h0M193.8 58.9h0M183.8 67.8h0M199.9 67.5h0M208.2 67.7h0M171.2 68.3h0M195.1 77.0h0M206.2 76.5h0M211.1 76.7h0M176.0 77.5h0M182.9 77.3h0M190.6 77.0h0M210.1 78.5h0M172.4 81.5h0M176.8 83.0h0M195.4 82.0h0M208.0 82.6h0M172.3 84.1h0M187.0 84.7h0M199.3 84.1h0M171.3 85.6h0M169.5 86.5h0M206.7 86.4h0M224.0 86.4h0M172.7 87.2h0M199.0 87.1h0M199.6 87.2h0M193.3 88.8h0M171.5 89.1h0M176.3 89.5h0M177.9 89.6h0M178.1 90.7h0M185.1 91.0h0M217.4 90.2h0M184.0 91.5h0M208.5 92.4h0M172.8 93.8h0M206.9 93.1h0M172.0 94.1h0M184.4 94.2h0M171.6 95.7h0M186.1 95.9h0M195.4 95.9h0M193.3 96.4h0M196.1 96.9h0M197.8 96.6h0M174.2 97.5h0M178.2 97.7h0M214.2 97.2h0M245.0 97.5h0M176.2 98.6h0M185.5 98.9h0M170.6 100.0h0M184.2 99.9h0M197.1 99.3h0M171.3 100.9h0M181.0 100.1h0M184.0 100.9h0M215.2 100.1h0M219.0 100.8h0M229.4 101.0h0M170.9 101.2h0M171.8 102.0h0M176.9 101.1h0M216.2 101.1h0M174.4 102.1h0M171.2 103.9h0M175.8 103.0h0M200.7 103.5h0M171.8 105.6h0M178.3 105.6h0M173.1 106.3h0M225.5 106.6h0M178.2 107.4h0M206.8 107.7h0M192.3 108.5h0M202.0 108.7h0M171.1 109.1h0M171.5 109.5h0M178.7 109.8h0M183.9 109.2h0M169.6 110.6h0M175.4 110.3h0M239.9 110.5h0M250.4 110.9h0M171.4 111.5h0M181.2 111.6h0M202.1 111.6h0M171.3 112.9h0M173.1 112.4h0M184.1 112.1h0M189.5 112.5h0M173.6 113.2h0M181.3 113.2h0M221.6 113.3h0M171.1 114.8h0M177.2 114.2h0M220.0 114.1h0M169.9 115.9h0M171.2 115.8h0M173.7 115.5h0M183.9 115.9h0M185.7 115.2h0M191.4 115.3h0M201.2 115.9h0M202.0 115.8h0M211.9 115.9h0M216.1 115.6h0M222.4 115.8h0M241.7 115.6h0M190.8 116.4h0M234.6 116.9h0M192.8 117.8h0M201.2 117.2h0M170.7 118.8h0M171.9 118.2h0M187.3 118.7h0M189.2 118.7h0M249.3 118.5h0M261.5 118.0h0M173.2 119.9h0M179.2 119.6h0M180.9 119.6h0M192.9 120.0h0M249.3 119.1h0M170.3 120.8h0M172.3 120.8h0M174.4 120.4h0M178.8 120.7h0M182.2 120.7h0M191.1 120.5h0M205.0 120.7h0M168.9 121.3h0M180.4 121.5h0M231.0 121.6h0M243.6 121.1h0M172.8 122.3h0M174.3 122.7h0M184.6 122.9h0M219.2 122.2h0M230.4 122.6h0M169.3 123.1h0M171.9 124.0h0M178.1 123.3h0M180.4 123.3h0M182.1 123.5h0M183.0 123.4h0M248.7 123.5h0M168.6 124.3h0M170.0 124.0h0M175.3 124.5h0M181.3 124.7h0M182.5 124.4h0M189.4 124.3h0M198.2 124.5h0M174.1 125.4h0M181.4 125.1h0M182.7 125.5h0M215.6 125.6h0M170.4 126.8h0M186.1 126.5h0M208.7 126.3h0M216.7 126.8h0M169.1 127.5h0M171.3 127.8h0M173.1 127.6h0M177.0 127.5h0M178.6 127.8h0M183.1 127.6h0M188.1 127.5h0M215.9 127.3h0M173.0 128.1h0M180.4 129.0h0M183.4 128.0h0M188.9 128.4h0M170.9 129.7h0M179.9 129.9h0M181.6 129.5h0M170.0 130.0h0M177.1 130.8h0M180.6 130.2h0M184.4 130.4h0M186.3 130.5h0M198.1 131.0h0M230.5 130.3h0M249.1 130.4h0M170.8 131.4h0M171.7 131.3h0M173.2 131.4h0M175.3 131.6h0M177.9 131.9h0M185.3 131.8h0M191.7 131.0h0M196.9 131.3h0M214.8 131.3h0M169.1 132.2h0M170.1 132.9h0M171.0 133.0h0M175.6 132.4h0M188.1 132.9h0M192.6 132.1h0M194.7 132.4h0M168.5 133.0h0M170.3 133.5h0M177.6 133.4h0M179.0 133.7h0M180.1 133.4h0M216.6 133.2h0M234.9 133.3h0M173.2 135.0h0M173.8 134.4h0M178.3 134.1h0M179.7 134.8h0M199.7 134.6h0M202.2 134.3h0M177.0 135.6h0M198.3 135.4h0M203.1 135.7h0M171.2 136.4h0M175.9 136.9h0M179.9 136.8h0M181.1 136.1h0M183.4 136.8h0M171.9 137.5h0M173.0 137.5h0M173.6 137.1h0M174.3 137.8h0M188.7 137.3h0M192.7 137.7h0M194.9 137.6h0M169.1 138.9h0M185.8 138.4h0M197.8 138.5h0M199.3 138.7h0M200.5 139.0h0M170.7 139.6h0M172.2 139.4h0M184.0 140.0h0M185.6 139.5h0M170.6 141.0h0M174.4 140.8h0M179.6 140.4h0M181.6 140.3h0M187.5 140.6h0M193.5 140.7h0M201.4 140.8h0M179.0 141.7h0M200.2 141.2h0M204.4 141.3h0M211.8 142.0h0M168.5 142.4h0M175.1 142.9h0M177.9 142.4h0M179.0 142.5h0M181.5 142.8h0M186.2 142.0h0M208.4 142.8h0M225.6 142.4h0M228.3 142.4h0M168.3 143.1h0M170.2 143.5h0M171.6 143.6h0M173.2 143.6h0M173.6 143.1h0M175.7 143.8h0M181.2 143.2h0M183.1 143.9h0M193.3 143.6h0M168.7 144.5h0M169.3 144.4h0M171.0 144.9h0M171.5 144.6h0M172.8 144.1h0M175.6 144.1h0M179.0 144.2h0M181.3 144.1h0M184.2 144.7h0M186.7 144.5h0M196.1 144.9h0M169.2 145.2h0M169.8 145.6h0M180.7 145.8h0M182.5 146.0h0M186.7 145.6h0M191.1 145.1h0M239.5 145.3h0M241.8 145.9h0M170.1 146.5h0M170.7 146.1h0M171.5 146.4h0M172.7 146.6h0M173.4 146.7h0M175.1 146.9h0M183.8 146.3h0M194.4 146.1h0M168.8 147.8h0M170.9 147.3h0M172.1 147.6h0M172.9 147.1h0M174.2 147.2h0M175.2 147.5h0M175.9 147.9h0M176.9 147.3h0M182.3 147.3h0M202.8 147.1h0M204.4 147.9h0M168.5 148.9h0M171.2 148.4h0M172.7 148.7h0M178.1 148.9h0M178.7 148.6h0M179.6 148.9h0M181.7 148.2h0M188.8 148.1h0M190.8 148.6h0M212.8 148.3h0M214.8 149.0h0M169.1 149.2h0M172.9 149.2h0M175.4 149.5h0M176.4 149.7h0M178.9 149.8h0M189.5 150.0h0M169.0 150.1h0M170.5 150.3h0M177.3 150.1h0M179.5 150.3h0M180.5 150.4h0M184.6 150.2h0M186.8 150.7h0M195.1 150.2h0M197.7 150.7h0M200.8 150.9h0M210.1 150.8h0M169.9 151.1h0M171.9 151.7h0M172.7 151.6h0M173.4 151.7h0M175.1 151.7h0M178.0 151.7h0M178.3 151.9h0M181.7 151.5h0M195.3 151.8h0M200.1 151.0h0M202.7 151.9h0M205.8 151.4h0M215.1 151.1h0M169.9 152.5h0M171.2 152.6h0M177.8 152.7h0M178.6 152.2h0M180.1 152.6h0M182.8 152.2h0M213.3 152.1h0M168.8 153.7h0M171.4 153.6h0M176.8 153.6h0M180.0 153.6h0M180.4 153.5h0M181.6 153.4h0M183.0 153.7h0M183.8 153.9h0M211.0 153.5h0M234.2 154.0h0M169.1 154.1h0M170.7 154.6h0M171.6 154.7h0M172.7 154.1h0M173.8 154.9h0M174.8 154.3h0M175.5 155.0h0M176.4 154.7h0M177.3 154.4h0M189.3 154.4h0M231.5 154.4h0M237.1 154.3h0M168.6 155.3h0M169.7 155.4h0M170.7 155.6h0M171.4 155.3h0M173.1 155.9h0M173.3 155.1h0M179.1 155.1h0M181.6 155.8h0M184.6 155.1h0M189.8 155.3h0M194.3 155.1h0M196.1 156.0h0M241.7 155.1h0M168.3 156.6h0M171.8 156.6h0M174.0 156.3h0M176.0 156.2h0M177.6 156.0h0M179.2 156.1h0M191.1 156.2h0M214.2 156.2h0M170.1 157.1h0M171.1 157.2h0M171.8 157.6h0M172.9 157.3h0M174.4 157.9h0M175.8 157.1h0M176.6 157.6h0M183.6 157.9h0M184.6 157.2h0M187.3 157.0h0M188.8 157.7h0M191.1 157.9h0M193.4 157.6h0M195.5 157.5h0M200.7 157.7h0M202.7 157.4h0M244.2 157.6h0M168.9 158.4h0M170.2 158.0h0M171.1 158.8h0M173.2 159.0h0M173.4 158.6h0M179.0 158.7h0M182.3 158.8h0M186.2 158.3h0M186.3 158.2h0M190.0 158.9h0M191.3 158.4h0M192.0 158.4h0M192.4 158.1h0M200.6 158.5h0M203.3 158.8h0M227.1 158.2h0M168.4 159.6h0M169.7 159.6h0M170.4 159.2h0M172.7 159.1h0M173.8 159.5h0M175.3 159.3h0M177.2 159.3h0M181.6 159.2h0M193.1 159.7h0M196.3 159.6h0M201.6 160.0h0M169.4 160.8h0M170.4 160.0h0M172.3 160.2h0M173.1 161.0h0M173.4 160.5h0M177.3 160.2h0M178.7 160.2h0M180.8 160.6h0M181.4 160.0h0M184.3 160.2h0M185.9 160.0h0M187.9 160.2h0M189.4 160.8h0M194.3 160.3h0M203.3 160.0h0M203.3 160.8h0M213.8 161.0h0M172.2 162.0h0M173.3 161.5h0M175.4 161.7h0M182.7 161.6h0M189.7 161.1h0M192.9 161.5h0M194.7 161.9h0M208.6 161.9h0M168.8 162.0h0M169.9 162.3h0M170.5 162.0h0M171.7 162.5h0M172.3 162.7h0M173.6 163.0h0M176.2 162.2h0M176.5 162.9h0M178.0 162.8h0M179.0 162.9h0M179.6 162.1h0M183.5 163.0h0M184.7 162.8h0M185.7 162.5h0M203.3 163.0h0M205.4 162.2h0M219.9 162.9h0M234.9 162.9h0M249.0 162.7h0M168.8 164.0h0M169.8 163.5h0M170.4 163.2h0M174.7 163.3h0M175.9 163.4h0M179.4 163.2h0M183.1 163.4h0M186.3 163.5h0M189.1 163.3h0M197.9 163.9h0M169.6 164.9h0M173.9 164.2h0M175.2 164.1h0M176.6 164.6h0M178.9 164.1h0M180.2 164.2h0M193.4 164.4h0M196.7 164.6h0M168.6 165.3h0M169.8 165.3h0M171.9 165.5h0M173.2 165.7h0M176.1 165.8h0M178.0 165.5h0M183.8 165.3h0M185.1 166.0h0M189.8 165.3h0M190.9 165.6h0M236.9 165.8h0M172.2 166.9h0M173.1 166.8h0M173.9 166.4h0M174.9 166.5h0M175.4 167.0h0M177.0 167.0h0M181.0 166.9h0M182.5 166.2h0M184.0 166.9h0M189.2 166.7h0M202.6 166.2h0M211.4 166.5h0M221.5 167.0h0M169.0 167.2h0M169.4 167.9h0M172.0 167.7h0M173.5 167.7h0M177.3 167.5h0M177.6 167.1h0M179.9 167.3h0M180.7 167.6h0M181.3 167.1h0M182.7 167.6h0M183.7 167.7h0M196.1 167.8h0M197.1 167.1h0M198.5 167.5h0M203.0 167.8h0M214.5 167.6h0M168.5 168.1h0M171.1 168.3h0M173.6 168.9h0M175.2 168.5h0M175.5 168.1h0M184.4 168.5h0M186.5 168.2h0M191.8 168.8h0M196.7 168.3h0M204.2 168.5h0M169.5 169.2h0M173.6 169.5h0M175.1 169.5h0M179.8 169.5h0M186.3 169.8h0M190.4 169.8h0M192.9 169.3h0M171.7 170.9h0M173.3 170.8h0M174.6 170.8h0M175.5 171.0h0M176.7 170.3h0M177.6 170.8h0M180.7 170.0h0M182.8 170.8h0M188.7 170.4h0M190.8 170.7h0M255.0 170.7h0M168.4 171.8h0M173.9 171.5h0M176.0 171.2h0M177.9 171.8h0M178.5 171.9h0M184.9 171.5h0M185.4 171.7h0M187.0 171.2h0M189.6 171.5h0M203.0 171.8h0M216.0 171.6h0M295.3 171.5h0M170.8 172.6h0M171.7 172.7h0M173.1 172.2h0M173.4 172.8h0M176.0 172.1h0M177.5 172.3h0M186.9 172.2h0M196.1 172.4h0M200.7 172.6h0M202.7 172.6h0M212.6 172.4h0M249.0 172.5h0M168.3 173.8h0M170.9 173.4h0M171.6 173.2h0M175.3 173.8h0M176.6 173.3h0M177.8 173.2h0M179.7 173.1h0M180.7 173.9h0M185.2 173.2h0M187.5 173.1h0M191.9 173.7h0M193.1 173.8h0M206.4 173.2h0M218.4 173.5h0M168.6 174.3h0M170.1 174.4h0M170.8 175.0h0M171.3 174.8h0M174.2 174.6h0M178.5 174.3h0M179.9 174.7h0M180.6 174.2h0M182.3 174.6h0M188.0 174.4h0M190.7 174.2h0M197.1 174.5h0M199.9 174.3h0M203.4 174.3h0M209.5 174.8h0M219.5 174.7h0M250.1 174.2h0M169.9 175.9h0M172.2 175.9h0M174.0 175.7h0M174.8 175.1h0M176.4 175.9h0M181.1 175.0h0M184.9 175.3h0M203.7 175.9h0M209.9 175.8h0M230.8 175.9h0M236.3 175.5h0M168.8 176.0h0M171.0 176.6h0M172.7 176.7h0M174.1 176.1h0M174.4 177.0h0M182.3 176.8h0M188.8 177.0h0M192.7 176.7h0M199.8 176.7h0M201.7 176.7h0M205.9 176.2h0M209.5 176.6h0M212.9 176.7h0M228.6 176.7h0M169.2 177.0h0M169.4 177.9h0M171.2 177.6h0M173.5 177.6h0M174.5 177.7h0M177.4 177.4h0M179.1 177.1h0M182.0 177.5h0M189.1 177.9h0M189.6 177.2h0M191.2 177.7h0M191.9 177.8h0M193.1 177.2h0M205.4 177.7h0M235.0 177.7h0M255.1 177.6h0M256.7 177.5h0M169.2 178.7h0M169.7 178.0h0M171.1 178.2h0M171.8 178.1h0M174.3 178.0h0M175.2 178.4h0M175.4 178.2h0M176.5 178.3h0M179.4 178.2h0M180.8 178.2h0M183.1 178.6h0M184.5 178.9h0M190.0 178.6h0M190.9 178.8h0M192.7 178.2h0M195.8 178.9h0M197.6 178.1h0M199.9 178.9h0M203.4 178.3h0M206.7 178.6h0M209.4 178.0h0M210.7 178.1h0M303.9 178.4h0M168.5 179.4h0M169.4 179.7h0M171.0 179.5h0M172.0 179.4h0M172.7 179.2h0M174.7 179.9h0M176.0 179.4h0M176.7 179.8h0M177.4 179.4h0M178.9 179.7h0M180.3 179.9h0M181.4 179.8h0M184.6 179.3h0M187.3 179.7h0M192.4 179.6h0M195.5 179.3h0M198.5 179.4h0M169.7 180.3h0M171.2 180.8h0M178.3 180.5h0M178.5 180.9h0M180.4 180.4h0M182.0 180.7h0M183.8 180.3h0M186.5 180.9h0M192.9 180.8h0M194.2 180.3h0M210.3 180.8h0M214.4 180.7h0M168.3 181.2h0M171.1 181.4h0M171.7 181.9h0M172.4 181.8h0M173.9 182.0h0M175.5 181.2h0M176.4 181.0h0M179.1 181.5h0M180.4 181.0h0M182.7 181.8h0M184.3 181.9h0M186.3 181.1h0M191.0 181.7h0M191.7 182.0h0M192.3 181.7h0M197.8 182.0h0M200.2 181.5h0M200.6 181.4h0M202.7 181.2h0M204.4 181.3h0M207.1 181.4h0M212.9 181.1h0M214.1 181.4h0M240.5 181.8h0M251.1 181.6h0M168.9 182.5h0M169.4 182.2h0M170.8 182.5h0M171.5 182.3h0M174.6 182.0h0M176.8 182.4h0M178.7 182.3h0M179.7 182.4h0M184.0 182.3h0M186.8 182.3h0M187.4 182.5h0M203.2 183.0h0M205.4 182.4h0M214.7 182.3h0M215.8 182.5h0M168.6 183.9h0M169.8 183.8h0M170.3 183.6h0M172.2 183.6h0M172.7 183.5h0M173.4 183.7h0M175.7 183.0h0M176.4 183.6h0M180.7 183.3h0M181.4 183.3h0M182.6 183.0h0M183.9 183.9h0M189.4 183.7h0M194.0 183.4h0M194.8 183.8h0M197.2 183.3h0M203.1 183.7h0M204.1 183.3h0M205.7 184.0h0M307.3 103.8h0M289.7 134.6h0M271.6 152.0h0M250.0 114.8h0M266.3 114.8h0M178.4 41.7h0M195.6 55.5h0M187.8 61.0h0M208.3 60.4h0M227.7 67.2h0M234.4 111.3h0M236.3 121.1h0M237.3 126.0h0M244.0 129.8h0" stroke="#ee2b1c" stroke-width="2.6" stroke-linecap="round" fill="none"/>
<path d="M132.4 76.3h0M134.0 82.5h0M111.1 83.2h0M137.0 85.7h0M127.9 89.7h0M129.4 91.2h0M130.5 91.8h0M125.6 92.9h0M124.6 93.7h0M136.2 93.6h0M129.0 96.0h0M134.1 96.7h0M135.5 97.7h0M137.5 98.5h0M126.2 99.7h0M129.3 99.6h0M130.5 99.5h0M134.8 99.9h0M134.9 101.0h0M135.6 100.2h0M136.2 100.6h0M137.4 100.1h0M114.7 102.1h0M119.0 102.7h0M120.1 102.3h0M134.7 103.5h0M135.5 103.5h0M132.0 104.3h0M136.6 104.5h0M119.0 105.2h0M119.3 105.8h0M130.2 106.0h0M132.8 105.4h0M133.9 106.9h0M127.6 107.2h0M132.2 107.4h0M133.1 107.9h0M134.8 108.2h0M117.8 109.2h0M130.7 109.8h0M112.4 110.0h0M113.3 110.2h0M127.5 110.1h0M123.2 111.6h0M125.1 111.7h0M132.3 111.3h0M134.9 111.4h0M132.7 112.7h0M118.7 113.6h0M131.0 113.1h0M116.4 114.2h0M102.1 115.2h0M112.9 116.0h0M128.3 115.3h0M134.0 116.0h0M88.6 116.4h0M124.5 116.6h0M126.3 116.8h0M127.4 116.4h0M130.8 116.4h0M98.7 117.5h0M129.8 117.2h0M132.7 117.1h0M133.6 117.3h0M126.6 118.7h0M136.3 118.8h0M97.5 119.3h0M112.6 119.1h0M114.4 120.0h0M123.7 119.1h0M127.2 119.5h0M131.6 119.4h0M130.4 120.8h0M134.5 120.2h0M135.8 120.8h0M123.9 121.5h0M129.2 121.7h0M133.9 121.4h0M135.2 122.0h0M119.6 122.5h0M123.7 122.8h0M127.2 122.1h0M128.5 122.8h0M131.1 122.5h0M134.8 122.4h0M132.7 123.6h0M125.3 124.4h0M132.6 124.8h0M136.6 124.4h0M128.9 125.4h0M129.5 125.9h0M131.7 125.2h0M135.0 125.4h0M136.6 125.2h0M131.9 126.1h0M132.8 126.5h0M135.3 126.9h0M137.9 126.0h0M114.1 127.6h0M130.4 127.8h0M135.2 127.9h0M82.0 128.4h0M118.6 128.2h0M121.7 128.7h0M124.9 128.1h0M127.2 128.8h0M128.4 128.1h0M136.0 128.1h0M137.1 128.8h0M104.6 129.9h0M128.8 130.8h0M130.3 130.5h0M135.5 130.2h0M120.3 131.8h0M125.1 131.1h0M126.5 131.0h0M133.8 131.8h0M137.0 131.2h0M137.5 131.3h0M120.2 132.5h0M118.2 133.7h0M121.5 133.0h0M131.3 133.6h0M132.6 133.3h0M135.4 133.3h0M81.3 134.7h0M107.1 134.5h0M113.7 134.2h0M116.2 134.2h0M121.6 134.2h0M126.1 134.5h0M128.7 134.3h0M75.4 135.8h0M97.1 135.4h0M107.7 135.8h0M131.6 135.7h0M132.1 135.9h0M135.6 135.1h0M137.9 135.8h0M116.3 136.9h0M120.5 136.4h0M124.6 136.3h0M129.7 136.7h0M132.5 136.7h0M137.3 136.0h0M114.8 137.7h0M122.7 137.9h0M125.6 138.0h0M132.4 137.1h0M137.5 138.0h0M133.3 138.6h0M136.4 138.5h0M119.2 139.5h0M123.5 139.4h0M126.2 140.0h0M130.6 139.2h0M135.6 139.9h0M114.3 140.4h0M120.5 140.7h0M125.4 140.0h0M126.1 140.1h0M127.6 140.5h0M132.6 140.7h0M135.4 140.7h0M99.4 142.0h0M109.6 141.4h0M122.6 141.9h0M123.1 141.1h0M125.2 141.3h0M137.3 141.2h0M104.7 142.6h0M107.6 142.1h0M120.9 142.7h0M123.3 142.7h0M133.5 142.9h0M136.3 143.0h0M137.7 142.3h0M110.6 143.7h0M111.9 143.7h0M121.0 143.6h0M123.1 143.1h0M125.8 143.0h0M128.6 143.8h0M135.9 143.8h0M136.5 144.0h0M137.5 143.8h0M101.3 144.9h0M120.3 144.4h0M128.3 144.1h0M136.7 144.9h0M103.1 145.1h0M127.2 145.2h0M132.8 145.6h0M134.8 145.6h0M120.4 146.4h0M123.3 146.3h0M125.0 146.6h0M130.6 146.2h0M133.4 146.6h0M134.3 146.7h0M137.9 146.5h0M117.9 147.2h0M118.4 147.3h0M124.2 147.5h0M126.7 147.3h0M127.2 147.5h0M128.3 147.1h0M129.3 147.5h0M130.1 147.1h0M133.5 147.4h0M135.5 147.2h0M118.9 148.0h0M126.3 148.2h0M129.2 148.1h0M131.1 148.6h0M132.2 149.0h0M110.0 149.1h0M115.7 149.7h0M123.2 150.0h0M127.8 149.2h0M129.8 149.2h0M131.3 149.3h0M119.5 150.7h0M122.6 150.9h0M123.6 150.9h0M126.7 150.0h0M130.2 150.5h0M115.8 151.4h0M122.6 151.3h0M129.6 151.9h0M133.9 151.1h0M137.5 151.8h0M114.4 152.8h0M119.4 152.8h0M121.9 152.8h0M128.5 152.9h0M129.9 152.3h0M130.1 152.6h0M134.4 152.2h0M135.9 152.7h0M137.1 152.9h0M115.1 153.8h0M117.6 153.5h0M120.3 153.9h0M121.2 153.1h0M126.4 153.6h0M128.8 153.6h0M131.6 153.7h0M137.4 153.1h0M118.4 155.0h0M122.1 154.8h0M126.4 154.7h0M127.8 155.0h0M133.1 154.3h0M135.7 155.0h0M136.1 154.3h0M119.2 156.0h0M122.7 155.3h0M123.7 156.0h0M128.4 156.0h0M131.0 155.4h0M135.3 155.3h0M114.8 156.9h0M120.1 156.3h0M129.5 156.2h0M134.1 156.6h0M119.5 157.0h0M123.7 158.0h0M137.0 157.0h0M104.1 158.9h0M123.7 158.9h0M127.9 158.6h0M136.1 158.2h0M137.6 158.0h0M105.0 159.6h0M119.1 159.4h0M130.0 159.1h0M132.6 159.5h0M134.4 159.3h0M136.2 159.2h0M138.0 159.4h0M93.2 160.9h0M99.5 160.5h0M113.3 160.3h0M115.2 160.8h0M117.6 160.2h0M126.5 160.7h0M128.7 160.2h0M129.6 160.7h0M130.8 160.7h0M131.5 160.9h0M132.6 160.2h0M136.8 160.5h0M118.9 161.4h0M124.9 161.1h0M125.3 161.1h0M129.2 161.3h0M130.5 161.2h0M131.8 161.2h0M136.0 161.9h0M118.9 162.3h0M123.9 162.6h0M125.4 162.9h0M126.0 162.5h0M135.9 162.2h0M136.5 162.4h0M115.6 163.5h0M123.5 163.6h0M130.6 163.6h0M133.7 163.9h0M136.7 163.4h0M109.2 164.1h0M114.4 164.8h0M115.7 164.6h0M121.5 164.5h0M122.6 164.3h0M125.0 164.8h0M126.0 164.3h0M128.0 164.7h0M133.9 164.5h0M135.2 164.6h0M136.5 164.1h0M113.5 165.7h0M115.5 165.3h0M121.0 165.1h0M126.6 165.8h0M130.2 165.5h0M131.4 166.0h0M134.4 165.5h0M135.3 166.0h0M136.8 165.4h0M113.0 166.2h0M121.9 166.9h0M130.4 166.8h0M133.8 166.6h0M137.3 166.1h0M88.5 167.5h0M98.4 167.3h0M117.1 167.0h0M122.2 167.5h0M123.4 167.9h0M124.6 167.6h0M126.6 167.2h0M133.3 167.5h0M134.3 167.4h0M137.3 167.3h0M89.6 168.3h0M117.4 168.1h0M122.1 168.2h0M123.6 168.6h0M124.8 168.5h0M125.8 168.1h0M129.3 168.2h0M130.9 168.6h0M132.7 168.8h0M136.6 168.2h0M137.9 168.7h0M114.6 169.1h0M118.7 169.8h0M120.8 169.5h0M125.4 169.6h0M130.7 170.0h0M132.4 169.2h0M134.8 170.0h0M136.4 169.4h0M117.0 170.0h0M117.3 170.1h0M127.2 170.7h0M130.3 170.5h0M131.1 170.3h0M136.1 170.8h0M89.7 171.0h0M118.2 171.1h0M122.8 171.3h0M123.4 171.3h0M124.1 171.6h0M130.8 171.6h0M131.7 171.4h0M134.4 171.2h0M137.4 171.0h0M118.5 172.7h0M119.2 172.0h0M122.3 172.3h0M123.7 172.2h0M128.0 172.3h0M130.9 172.1h0M134.6 172.3h0M136.7 172.5h0M114.3 173.5h0M121.7 173.3h0M125.1 173.7h0M126.6 173.5h0M128.9 173.8h0M129.7 173.7h0M132.6 173.9h0M133.9 173.2h0M136.4 173.9h0M120.1 175.0h0M125.0 175.0h0M127.2 174.8h0M129.9 174.3h0M131.9 174.0h0M136.6 174.1h0M123.8 175.6h0M131.6 175.3h0M132.6 175.1h0M133.2 175.7h0M135.1 176.0h0M136.5 175.3h0M106.7 176.6h0M114.3 176.8h0M120.8 176.5h0M132.3 176.8h0M134.6 176.9h0M135.5 176.8h0M136.9 176.0h0M70.4 177.3h0M109.7 177.4h0M111.4 177.6h0M122.8 177.7h0M129.8 177.6h0M131.4 177.8h0M134.6 177.7h0M118.4 178.0h0M120.9 178.3h0M123.1 178.8h0M124.6 178.1h0M128.2 178.4h0M129.5 178.2h0M132.6 178.3h0M134.3 178.5h0M136.7 178.6h0M137.6 178.2h0M119.1 179.2h0M123.0 180.0h0M124.9 179.1h0M125.0 179.3h0M127.0 179.4h0M130.3 179.8h0M137.1 179.5h0M113.9 180.7h0M120.4 180.8h0M121.4 180.9h0M123.8 180.2h0M126.5 180.6h0M127.7 180.0h0M134.6 180.8h0M135.7 180.5h0M105.1 181.7h0M122.5 182.0h0M123.9 181.4h0M129.6 181.6h0M130.4 181.3h0M133.0 181.6h0M134.5 181.2h0M137.0 181.5h0M97.5 182.7h0M116.1 182.9h0M119.2 182.9h0M120.2 182.2h0M121.9 182.9h0M123.6 182.4h0M125.1 182.9h0M127.4 182.4h0M128.9 182.3h0M131.0 182.8h0M131.5 182.8h0M133.8 182.2h0M113.1 183.2h0M114.4 183.8h0M118.4 183.1h0M120.5 183.8h0M125.8 183.2h0M127.5 183.9h0M129.8 183.1h0M131.8 183.8h0M132.6 183.0h0M133.3 183.0h0M137.6 183.6h0M57.8 157.1h0M61.0 171.6h0M79.9 159.6h0M84.9 178.5h0M94.8 144.0h0M85.7 149.9h0M96.6 135.2h0M119.0 74.8h0M123.2 79.5h0" stroke="#127a38" stroke-width="2.6" stroke-linecap="round" fill="none"/>
<rect x="45.2" y="15.3" width="277.8" height="198.7" fill="none" stroke="#000" stroke-width="1.6"/>
<line x1="43.2" y1="24.1" x2="45.2" y2="24.1" stroke="#333" stroke-width="0.7"/>
<text x="42.3" y="26.0" font-size="6.7" text-anchor="end" font-weight="400" fill="#222" >6.0</text>
<line x1="43.2" y1="46.4" x2="45.2" y2="46.4" stroke="#333" stroke-width="0.7"/>
<text x="42.3" y="48.3" font-size="6.7" text-anchor="end" font-weight="400" fill="#222" >5.0</text>
<line x1="43.2" y1="72.7" x2="45.2" y2="72.7" stroke="#333" stroke-width="0.7"/>
<text x="42.3" y="74.6" font-size="6.7" text-anchor="end" font-weight="400" fill="#222" >4.0</text>
<line x1="43.2" y1="105.0" x2="45.2" y2="105.0" stroke="#333" stroke-width="0.7"/>
<text x="42.3" y="106.9" font-size="6.7" text-anchor="end" font-weight="400" fill="#222" >3.0</text>
<line x1="43.2" y1="146.6" x2="45.2" y2="146.6" stroke="#333" stroke-width="0.7"/>
<text x="42.3" y="148.5" font-size="6.7" text-anchor="end" font-weight="400" fill="#222" >2.0</text>
<line x1="43.2" y1="185.0" x2="45.2" y2="185.0" stroke="#333" stroke-width="0.7"/>
<text x="42.3" y="186.9" font-size="6.7" text-anchor="end" font-weight="400" fill="#222" >1.3</text>
<line x1="77.4" y1="214.0" x2="77.4" y2="216.0" stroke="#333" stroke-width="0.7"/>
<text x="77.4" y="222.3" font-size="7.0" text-anchor="middle" font-weight="400" fill="#222" >−5</text>
<line x1="152.9" y1="214.0" x2="152.9" y2="216.0" stroke="#333" stroke-width="0.7"/>
<text x="152.9" y="222.3" font-size="7.0" text-anchor="middle" font-weight="400" fill="#222" >0</text>
<line x1="228.4" y1="214.0" x2="228.4" y2="216.0" stroke="#333" stroke-width="0.7"/>
<text x="228.4" y="222.3" font-size="7.0" text-anchor="middle" font-weight="400" fill="#222" >5</text>
<line x1="303.9" y1="214.0" x2="303.9" y2="216.0" stroke="#333" stroke-width="0.7"/>
<text x="303.9" y="222.3" font-size="7.0" text-anchor="middle" font-weight="400" fill="#222" >10</text>
<text x="185.0" y="231.4" font-size="9.4" text-anchor="middle" font-weight="400" fill="#000" >SDS2-ACT vs WT by log2(mean_fold change)</text>
<text transform="translate(29.0,109.0) rotate(-90)" font-size="10.3" text-anchor="middle">-log10(p-val)</text>
<circle cx="260.1" cy="22.3" r="1.1" fill="#ee2b1c"/>
<text x="264.5" y="25.2" font-size="8" text-anchor="start" font-weight="400" fill="#000" >Up-regulated</text>
<circle cx="260.1" cy="33.3" r="1.1" fill="#127a38"/>
<text x="264.5" y="36.2" font-size="8" text-anchor="start" font-weight="400" fill="#000" >Down-regulated</text>
<circle cx="260.1" cy="44.3" r="1.1" fill="#000"/>
<text x="264.5" y="47.2" font-size="8" text-anchor="start" font-weight="400" fill="#000" >No changes</text>
<circle cx="260.1" cy="55.3" r="1.1" fill="#b5b5b5"/>
<text x="264.5" y="58.2" font-size="8" text-anchor="start" font-weight="400" fill="#000" >Not significant</text>
<rect x="380.0" y="20.4" width="159.5" height="181.79999999999998" fill="#fff"/>
<line x1="380.0" y1="180.0" x2="539.5" y2="180.0" stroke="#f2f2f2" stroke-width="0.6"/>
<line x1="380.0" y1="135.5" x2="539.5" y2="135.5" stroke="#f2f2f2" stroke-width="0.6"/>
<line x1="380.0" y1="91.0" x2="539.5" y2="91.0" stroke="#f2f2f2" stroke-width="0.6"/>
<line x1="380.0" y1="46.6" x2="539.5" y2="46.6" stroke="#f2f2f2" stroke-width="0.6"/>
<line x1="380.0" y1="202.2" x2="539.5" y2="202.2" stroke="#e6e6e6" stroke-width="0.7"/>
<line x1="380.0" y1="157.7" x2="539.5" y2="157.7" stroke="#e6e6e6" stroke-width="0.7"/>
<line x1="380.0" y1="113.3" x2="539.5" y2="113.3" stroke="#e6e6e6" stroke-width="0.7"/>
<line x1="380.0" y1="68.8" x2="539.5" y2="68.8" stroke="#e6e6e6" stroke-width="0.7"/>
<line x1="380.0" y1="24.3" x2="539.5" y2="24.3" stroke="#e6e6e6" stroke-width="0.7"/>
<line x1="423.1" y1="20.4" x2="423.1" y2="202.2" stroke="#e6e6e6" stroke-width="0.7"/>
<line x1="496.1" y1="20.4" x2="496.1" y2="202.2" stroke="#e6e6e6" stroke-width="0.7"/>
<rect x="397.8" y="146.5" width="50.6" height="55.7" fill="#127a38"/>
<rect x="470.8" y="37.0" width="50.6" height="165.2" fill="#ec3322"/>
<rect x="380.0" y="20.4" width="159.5" height="181.79999999999998" fill="none" stroke="#333" stroke-width="1"/>
<line x1="380.0" y1="20.4" x2="380.0" y2="202.2" stroke="#555" stroke-width="1.8"/>
<line x1="380.0" y1="202.2" x2="539.5" y2="202.2" stroke="#333" stroke-width="1.2"/>
<line x1="377.5" y1="202.2" x2="380.0" y2="202.2" stroke="#333" stroke-width="0.7"/>
<text x="376.0" y="204.9" font-size="7.4" text-anchor="end" font-weight="400" fill="#333" >0</text>
<line x1="377.5" y1="157.7" x2="380.0" y2="157.7" stroke="#333" stroke-width="0.7"/>
<text x="376.0" y="160.4" font-size="7.4" text-anchor="end" font-weight="400" fill="#333" >300</text>
<line x1="377.5" y1="113.3" x2="380.0" y2="113.3" stroke="#333" stroke-width="0.7"/>
<text x="376.0" y="115.9" font-size="7.4" text-anchor="end" font-weight="400" fill="#333" >600</text>
<line x1="377.5" y1="68.8" x2="380.0" y2="68.8" stroke="#333" stroke-width="0.7"/>
<text x="376.0" y="71.5" font-size="7.4" text-anchor="end" font-weight="400" fill="#333" >900</text>
<line x1="377.5" y1="24.3" x2="380.0" y2="24.3" stroke="#333" stroke-width="0.7"/>
<text x="376.0" y="27.0" font-size="7.4" text-anchor="end" font-weight="400" fill="#333" >1200</text>
<line x1="423.1" y1="202.2" x2="423.1" y2="204.7" stroke="#333" stroke-width="0.7"/>
<line x1="496.1" y1="202.2" x2="496.1" y2="204.7" stroke="#333" stroke-width="0.7"/>
<text x="423.1" y="143.0" font-size="8.8" text-anchor="middle" font-weight="400" fill="#000" >378</text>
<text x="496.1" y="33.3" font-size="8.8" text-anchor="middle" font-weight="400" fill="#000" >1119</text>
<text x="425.1" y="215.3" font-size="8.6" text-anchor="middle" font-weight="400" fill="#000" >Down-regulated</text>
<text x="499.5" y="215.5" font-size="8.6" text-anchor="middle" font-weight="400" fill="#000" >Up-regulated</text>
<text transform="translate(358.2,113.5) rotate(-90)" font-size="10.3" text-anchor="middle">Number of DEGs</text>
<line x1="119" y1="81" x2="135" y2="128" stroke="#8a8a8a" stroke-width="0.5"/>
<line x1="121" y1="99" x2="134" y2="137" stroke="#8a8a8a" stroke-width="0.5"/>
<line x1="108" y1="108" x2="117" y2="150" stroke="#8a8a8a" stroke-width="0.5"/>
<line x1="106.8" y1="128" x2="114.1" y2="157.8" stroke="#8a8a8a" stroke-width="0.5"/>
<line x1="69.7" y1="148.4" x2="79.9" y2="159.3" stroke="#8a8a8a" stroke-width="0.5"/>
<line x1="57.8" y1="167" x2="61" y2="171.6" stroke="#8a8a8a" stroke-width="0.5"/>
<line x1="95.2" y1="154.5" x2="104.6" y2="160" stroke="#8a8a8a" stroke-width="0.5"/>
<line x1="105" y1="173.5" x2="113" y2="182" stroke="#8a8a8a" stroke-width="0.5"/>
<line x1="156" y1="186.6" x2="162.5" y2="203.4" stroke="#8a8a8a" stroke-width="0.5"/>
<line x1="176.6" y1="76" x2="186" y2="147" stroke="#8a8a8a" stroke-width="0.5"/>
<line x1="200.3" y1="49.6" x2="199.5" y2="150" stroke="#8a8a8a" stroke-width="0.5"/>
<line x1="203.8" y1="77" x2="199.7" y2="150.7" stroke="#8a8a8a" stroke-width="0.5"/>
<line x1="215.4" y1="64" x2="201.7" y2="145" stroke="#8a8a8a" stroke-width="0.5"/>
<line x1="190.8" y1="106" x2="195.5" y2="161.6" stroke="#8a8a8a" stroke-width="0.5"/>
<line x1="221.6" y1="98.2" x2="216.1" y2="161.6" stroke="#8a8a8a" stroke-width="0.5"/>
<line x1="228.4" y1="98.2" x2="217.5" y2="157.5" stroke="#8a8a8a" stroke-width="0.5"/>
<line x1="235.3" y1="90.7" x2="222.3" y2="154.8" stroke="#8a8a8a" stroke-width="0.5"/>
<line x1="210.6" y1="119.2" x2="212.7" y2="143.8" stroke="#8a8a8a" stroke-width="0.5"/>
<line x1="243.5" y1="109.6" x2="236" y2="121.9" stroke="#8a8a8a" stroke-width="0.5"/>
<line x1="261.8" y1="110.5" x2="222" y2="142" stroke="#8a8a8a" stroke-width="0.5"/>
<line x1="264" y1="128" x2="227.6" y2="153.5" stroke="#8a8a8a" stroke-width="0.5"/>
<line x1="268" y1="131.5" x2="229" y2="155" stroke="#8a8a8a" stroke-width="0.5"/>
<line x1="258.5" y1="139" x2="232.3" y2="157.6" stroke="#8a8a8a" stroke-width="0.5"/>
<line x1="266.3" y1="146" x2="233.5" y2="159.3" stroke="#8a8a8a" stroke-width="0.5"/>
<line x1="279.3" y1="154" x2="234" y2="160.5" stroke="#8a8a8a" stroke-width="0.5"/>
<line x1="252.3" y1="155" x2="232.9" y2="161.1" stroke="#8a8a8a" stroke-width="0.5"/>
<line x1="267.3" y1="160.5" x2="232.3" y2="162.9" stroke="#8a8a8a" stroke-width="0.5"/>
<line x1="254" y1="167.5" x2="225.3" y2="170.5" stroke="#8a8a8a" stroke-width="0.5"/>
<line x1="262" y1="177" x2="242.9" y2="184" stroke="#8a8a8a" stroke-width="0.5"/>
<line x1="211.2" y1="130" x2="213.5" y2="160.5" stroke="#8a8a8a" stroke-width="0.5"/>
<line x1="218.2" y1="130" x2="215.3" y2="165.2" stroke="#8a8a8a" stroke-width="0.5"/>
<line x1="222.3" y1="130" x2="216.5" y2="168.7" stroke="#8a8a8a" stroke-width="0.5"/>
<line x1="227" y1="130" x2="214.7" y2="173.4" stroke="#8a8a8a" stroke-width="0.5"/>
<text x="105.2" y="80.8" font-size="4.03" font-weight="700" fill="#111" >ROSES1</text>
<text x="110.0" y="98.1" font-size="4.03" font-weight="700" fill="#111" >OsTBK1</text>
<text x="89.0" y="107.4" font-size="3.81" font-weight="700" fill="#111" >OsSAG12 like</text>
<text x="98.5" y="127.5" font-size="3.92" font-weight="700" fill="#111" >OsNR2</text>
<text x="61.0" y="148.4" font-size="4.03" font-weight="700" fill="#111" >OsPUB14</text>
<text x="49.1" y="166.6" font-size="4.03" font-weight="700" fill="#111" >OsDpf16</text>
<text x="86.9" y="154.2" font-size="4.03" font-weight="700" fill="#111" >OsPGIP2</text>
<text x="98.1" y="173.1" font-size="4.03" font-weight="700" fill="#111" >OsAAP</text>
<text x="159.4" y="205.9" font-size="3.14" font-weight="700" fill="#111" >SPL11</text>
<text x="171.5" y="75.2" font-size="3.81" font-weight="700" fill="#111" >OsBIN1</text>
<text x="194.5" y="48.0" font-size="5.71" font-weight="700" fill="#111" >OsPR10</text>
<text x="213.2" y="63.2" font-size="5.49" font-weight="700" fill="#111" >OsXA21</text>
<text x="216.1" y="97.4" font-size="3.25" font-weight="700" fill="#111" >OsRLCK118</text>
<text x="234.8" y="91.0" font-size="4.2" font-weight="700" fill="#111" >OsSERK2</text>
<text x="183.9" y="106.3" font-size="3.47" font-weight="700" fill="#111" >OsMAK41</text>
<text x="236.4" y="108.9" font-size="4.26" font-weight="700" fill="#111" >OsFBX345</text>
<text x="258.0" y="109.2" font-size="4.26" font-weight="700" fill="#111" >OsBIR2</text>
<text x="264.1" y="126.4" font-size="3.42" font-weight="700" fill="#111" >OsSDRLK06</text>
<text x="268.2" y="130.6" font-size="3.36" font-weight="700" fill="#111" >OsRLCK348</text>
<text x="258.5" y="138.4" font-size="5.15" font-weight="700" fill="#111" >OsPR1a</text>
<text x="266.3" y="145.5" font-size="5.49" font-weight="700" fill="#111" >OsPR3</text>
<text x="279.3" y="153.7" font-size="5.26" font-weight="700" fill="#111" >OsPR10c</text>
<text x="252.3" y="154.1" font-size="3.25" font-weight="700" fill="#111" >OsXBL10</text>
<text x="267.3" y="159.9" font-size="4.18" font-weight="700" fill="#111" >OsSERK1</text>
<text x="254.0" y="166.7" font-size="4.26" font-weight="700" fill="#111" >OsDWF1</text>
<text x="262.2" y="175.6" font-size="3.47" font-weight="700" fill="#111" >OsMAX65</text>
<text x="221.7" y="172.7" font-size="2.91" font-weight="700" fill="#111" >OsBAK19</text>
<text x="0.0" y="0.0" font-size="3.0" font-weight="700" fill="#111" transform="translate(202.5,76.5) rotate(-53)">OsNBLRR1</text>
<text x="0.0" y="0.0" font-size="3.0" font-weight="700" fill="#111" transform="translate(206,113) rotate(25)">OsMAPK5</text>
<text x="0.0" y="0.0" font-size="2.8" font-weight="700" fill="#111" transform="translate(217.5,166) rotate(-32)">OsRLK4</text>
<text x="84.5" y="88.5" font-size="2.5" font-weight="700" fill="#111" >4</text>
<rect x="46.10" y="257.80" width="33.95" height="2.90" fill="#1086c5"/>
<rect x="46.10" y="260.40" width="33.95" height="2.90" fill="#4eb1db"/>
<rect x="46.10" y="263.00" width="33.95" height="1.50" fill="#81cae6"/>
<rect x="46.10" y="264.20" width="33.95" height="1.80" fill="#0c7abd"/>
<rect x="46.10" y="265.70" width="33.95" height="1.50" fill="#1594cf"/>
<rect x="46.10" y="266.90" width="33.95" height="2.50" fill="#2fa2d5"/>
<rect x="46.10" y="269.10" width="33.95" height="1.80" fill="#2da1d5"/>
<rect x="46.10" y="270.60" width="33.95" height="1.80" fill="#0f84c3"/>
<rect x="46.10" y="272.10" width="33.95" height="1.50" fill="#138dca"/>
<rect x="46.10" y="273.30" width="33.95" height="1.80" fill="#0e80c1"/>
<rect x="46.10" y="274.80" width="33.95" height="2.50" fill="#299fd4"/>
<rect x="46.10" y="277.00" width="33.95" height="1.80" fill="#5bb8de"/>
<rect x="46.10" y="278.50" width="33.95" height="2.90" fill="#0972b8"/>
<rect x="46.10" y="281.10" width="33.95" height="1.50" fill="#118ac8"/>
<rect x="46.10" y="282.30" width="33.95" height="1.50" fill="#85cce6"/>
<rect x="46.10" y="283.50" width="33.95" height="1.80" fill="#9ad6eb"/>
<rect x="46.10" y="285.00" width="33.95" height="1.80" fill="#93d3e9"/>
<rect x="46.10" y="286.50" width="33.95" height="2.90" fill="#bce2ef"/>
<rect x="46.10" y="289.10" width="33.95" height="1.80" fill="#138ecb"/>
<rect x="46.10" y="290.60" width="33.95" height="1.80" fill="#38a6d7"/>
<rect x="46.10" y="292.10" width="33.95" height="2.50" fill="#086bb1"/>
<rect x="46.10" y="294.30" width="33.95" height="1.80" fill="#269ed3"/>
<rect x="46.10" y="295.80" width="33.95" height="1.80" fill="#138dca"/>
<rect x="46.10" y="297.30" width="33.95" height="2.90" fill="#269ed3"/>
<rect x="46.10" y="299.90" width="33.95" height="2.90" fill="#5bb8de"/>
<rect x="46.10" y="302.50" width="33.95" height="2.10" fill="#58b6dd"/>
<rect x="46.10" y="304.30" width="33.95" height="1.50" fill="#37a6d7"/>
<rect x="46.10" y="305.50" width="33.95" height="2.50" fill="#b5dfee"/>
<rect x="46.10" y="307.70" width="33.95" height="2.10" fill="#84cbe6"/>
<rect x="46.10" y="309.50" width="33.95" height="1.80" fill="#138dca"/>
<rect x="46.10" y="311.00" width="33.95" height="1.50" fill="#0d7ec0"/>
<rect x="46.10" y="312.20" width="33.95" height="2.00" fill="#36a6d6"/>
<rect x="46.10" y="313.90" width="33.95" height="2.50" fill="#aa0f29"/>
<rect x="46.10" y="316.10" width="33.95" height="2.10" fill="#cc202c"/>
<rect x="46.10" y="317.90" width="33.95" height="2.50" fill="#af1129"/>
<rect x="46.10" y="320.10" width="33.95" height="1.50" fill="#ad1129"/>
<rect x="46.10" y="321.30" width="33.95" height="1.80" fill="#d2232c"/>
<rect x="46.10" y="322.80" width="33.95" height="1.50" fill="#d2232c"/>
<rect x="46.10" y="324.00" width="33.95" height="1.80" fill="#a00a28"/>
<rect x="46.10" y="325.50" width="33.95" height="2.10" fill="#c21b2b"/>
<rect x="46.10" y="327.30" width="33.95" height="2.90" fill="#bc182a"/>
<rect x="46.10" y="329.90" width="33.95" height="2.50" fill="#bb182a"/>
<rect x="46.10" y="332.10" width="33.95" height="1.50" fill="#e43a35"/>
<rect x="46.10" y="333.30" width="33.95" height="2.10" fill="#df2f30"/>
<rect x="46.10" y="335.10" width="33.95" height="2.10" fill="#c11b2b"/>
<rect x="46.10" y="336.90" width="33.95" height="1.50" fill="#e13332"/>
<rect x="46.10" y="338.10" width="33.95" height="1.80" fill="#f7775d"/>
<rect x="46.10" y="339.60" width="33.95" height="1.80" fill="#eb483c"/>
<rect x="46.10" y="341.10" width="33.95" height="2.10" fill="#e84339"/>
<rect x="46.10" y="342.90" width="33.95" height="1.50" fill="#d3232c"/>
<rect x="46.10" y="344.10" width="33.95" height="2.10" fill="#e9453a"/>
<rect x="46.10" y="345.90" width="33.95" height="1.50" fill="#ed4e3e"/>
<rect x="46.10" y="347.10" width="33.95" height="1.80" fill="#dd2b2e"/>
<rect x="46.10" y="348.60" width="33.95" height="2.50" fill="#e43935"/>
<rect x="46.10" y="350.80" width="33.95" height="1.80" fill="#dd2a2e"/>
<rect x="46.10" y="352.30" width="33.95" height="2.90" fill="#ef5140"/>
<rect x="46.10" y="354.90" width="33.95" height="2.90" fill="#d7262d"/>
<rect x="46.10" y="357.50" width="33.95" height="2.90" fill="#dd2a2e"/>
<rect x="46.10" y="360.10" width="33.95" height="2.10" fill="#e63f37"/>
<rect x="46.10" y="361.90" width="33.95" height="2.50" fill="#f45c45"/>
<rect x="46.10" y="364.10" width="33.95" height="1.80" fill="#af1129"/>
<rect x="46.10" y="365.60" width="33.95" height="1.50" fill="#cc202c"/>
<rect x="46.10" y="366.80" width="33.95" height="2.50" fill="#f98e73"/>
<rect x="46.10" y="369.00" width="33.95" height="2.90" fill="#f67056"/>
<rect x="46.10" y="371.60" width="33.95" height="1.80" fill="#fad4c3"/>
<rect x="46.10" y="373.10" width="33.95" height="1.50" fill="#fad6c6"/>
<rect x="46.10" y="374.30" width="33.95" height="1.80" fill="#fcb89a"/>
<rect x="46.10" y="375.80" width="33.95" height="2.50" fill="#faa083"/>
<rect x="46.10" y="378.00" width="33.95" height="2.10" fill="#e84339"/>
<rect x="46.10" y="379.80" width="33.95" height="2.90" fill="#e53c36"/>
<rect x="46.10" y="382.40" width="33.95" height="1.80" fill="#eb493c"/>
<rect x="46.10" y="383.90" width="33.95" height="2.50" fill="#bc182a"/>
<rect x="46.10" y="386.10" width="33.95" height="2.10" fill="#ca1f2b"/>
<rect x="46.10" y="387.90" width="33.95" height="2.50" fill="#b6152a"/>
<rect x="46.10" y="390.10" width="33.95" height="1.80" fill="#a00a28"/>
<rect x="46.10" y="391.60" width="33.95" height="2.90" fill="#a00a28"/>
<rect x="46.10" y="394.20" width="33.95" height="1.80" fill="#b8162a"/>
<rect x="46.10" y="395.70" width="33.95" height="2.10" fill="#b8162a"/>
<rect x="46.10" y="397.50" width="33.95" height="1.80" fill="#a90f29"/>
<rect x="46.10" y="399.00" width="33.95" height="2.90" fill="#e74138"/>
<rect x="46.10" y="401.60" width="33.95" height="2.90" fill="#f56047"/>
<rect x="46.10" y="404.20" width="33.95" height="2.10" fill="#e9443a"/>
<rect x="46.10" y="406.00" width="33.95" height="2.90" fill="#f77b61"/>
<rect x="46.10" y="408.60" width="33.95" height="2.10" fill="#fadacc"/>
<rect x="46.10" y="410.40" width="33.95" height="2.90" fill="#fcbea3"/>
<rect x="46.10" y="413.00" width="33.95" height="2.50" fill="#f7785e"/>
<rect x="46.10" y="415.20" width="33.95" height="2.10" fill="#f35b44"/>
<rect x="46.10" y="417.00" width="33.95" height="2.10" fill="#fadcce"/>
<rect x="46.10" y="418.80" width="33.95" height="2.10" fill="#fbcbb5"/>
<rect x="46.10" y="420.60" width="33.95" height="1.50" fill="#e63d37"/>
<rect x="46.10" y="421.80" width="33.95" height="2.50" fill="#e33634"/>
<rect x="46.10" y="424.00" width="33.95" height="2.10" fill="#de2c2f"/>
<rect x="46.10" y="425.80" width="33.95" height="2.50" fill="#df2e30"/>
<rect x="46.10" y="428.00" width="33.95" height="2.10" fill="#c31c2b"/>
<rect x="46.10" y="429.80" width="33.95" height="2.10" fill="#f15742"/>
<rect x="46.10" y="431.60" width="33.95" height="2.50" fill="#e84239"/>
<rect x="46.10" y="433.80" width="33.95" height="2.10" fill="#f88368"/>
<rect x="46.10" y="435.60" width="33.95" height="2.50" fill="#fa9e82"/>
<rect x="46.10" y="437.80" width="33.95" height="2.10" fill="#fcb799"/>
<rect x="46.10" y="439.60" width="33.95" height="2.90" fill="#fadacb"/>
<rect x="46.10" y="442.20" width="33.95" height="1.80" fill="#f88b70"/>
<rect x="46.10" y="443.70" width="33.95" height="2.50" fill="#f7785d"/>
<rect x="46.10" y="445.90" width="33.95" height="2.10" fill="#f05441"/>
<rect x="46.10" y="447.70" width="33.95" height="2.50" fill="#f66b52"/>
<rect x="46.10" y="449.90" width="33.95" height="1.80" fill="#f77459"/>
<rect x="46.10" y="451.40" width="33.95" height="2.90" fill="#f66e54"/>
<rect x="46.10" y="454.00" width="33.95" height="2.50" fill="#f66c53"/>
<rect x="46.10" y="456.20" width="33.95" height="2.10" fill="#ea473b"/>
<rect x="46.10" y="458.00" width="33.95" height="1.50" fill="#f8876b"/>
<rect x="46.10" y="459.20" width="33.95" height="2.90" fill="#f66c53"/>
<rect x="46.10" y="461.80" width="33.95" height="1.80" fill="#ed4e3e"/>
<rect x="46.10" y="463.30" width="33.95" height="1.50" fill="#e33634"/>
<rect x="46.10" y="464.50" width="33.95" height="2.50" fill="#f99478"/>
<rect x="46.10" y="466.70" width="33.95" height="1.80" fill="#fbaa8c"/>
<rect x="46.10" y="468.20" width="33.95" height="1.50" fill="#f9e5dc"/>
<rect x="46.10" y="469.40" width="33.95" height="1.80" fill="#fad2bf"/>
<rect x="46.10" y="470.90" width="33.95" height="2.90" fill="#fbc6ae"/>
<rect x="46.10" y="473.50" width="33.95" height="2.50" fill="#f98d71"/>
<rect x="46.10" y="475.70" width="33.95" height="2.90" fill="#f88166"/>
<rect x="46.10" y="478.30" width="33.95" height="1.40" fill="#f88b70"/>
<rect x="79.75" y="257.80" width="33.95" height="1.50" fill="#08559b"/>
<rect x="79.75" y="259.00" width="33.95" height="2.50" fill="#128bc9"/>
<rect x="79.75" y="261.20" width="33.95" height="1.50" fill="#0867ad"/>
<rect x="79.75" y="262.40" width="33.95" height="1.50" fill="#085aa0"/>
<rect x="79.75" y="263.60" width="33.95" height="2.90" fill="#086ab0"/>
<rect x="79.75" y="266.20" width="33.95" height="2.90" fill="#88cde7"/>
<rect x="79.75" y="268.80" width="33.95" height="2.90" fill="#1085c4"/>
<rect x="79.75" y="271.40" width="33.95" height="2.10" fill="#30a3d5"/>
<rect x="79.75" y="273.20" width="33.95" height="1.80" fill="#33a4d6"/>
<rect x="79.75" y="274.70" width="33.95" height="2.90" fill="#259dd3"/>
<rect x="79.75" y="277.30" width="33.95" height="2.10" fill="#1087c5"/>
<rect x="79.75" y="279.10" width="33.95" height="2.50" fill="#0b79bc"/>
<rect x="79.75" y="281.30" width="33.95" height="2.90" fill="#086eb4"/>
<rect x="79.75" y="283.90" width="33.95" height="1.80" fill="#1490cc"/>
<rect x="79.75" y="285.40" width="33.95" height="2.90" fill="#b9e1ef"/>
<rect x="79.75" y="288.00" width="33.95" height="1.50" fill="#a6daec"/>
<rect x="79.75" y="289.20" width="33.95" height="2.50" fill="#e1eff5"/>
<rect x="79.75" y="291.40" width="33.95" height="2.90" fill="#3ba8d8"/>
<rect x="79.75" y="294.00" width="33.95" height="2.90" fill="#b6e0ef"/>
<rect x="79.75" y="296.60" width="33.95" height="2.90" fill="#bce2ef"/>
<rect x="79.75" y="299.20" width="33.95" height="2.50" fill="#086bb1"/>
<rect x="79.75" y="301.40" width="33.95" height="2.50" fill="#acdced"/>
<rect x="79.75" y="303.60" width="33.95" height="2.10" fill="#085da3"/>
<rect x="79.75" y="305.40" width="33.95" height="2.50" fill="#0c7abd"/>
<rect x="79.75" y="307.60" width="33.95" height="1.80" fill="#086eb4"/>
<rect x="79.75" y="309.10" width="33.95" height="2.10" fill="#0972b7"/>
<rect x="79.75" y="310.90" width="33.95" height="2.50" fill="#0b78bb"/>
<rect x="79.75" y="313.10" width="33.95" height="1.10" fill="#0c7abd"/>
<rect x="79.75" y="313.90" width="33.95" height="2.50" fill="#f8856a"/>
<rect x="79.75" y="316.10" width="33.95" height="1.50" fill="#fa9d80"/>
<rect x="79.75" y="317.30" width="33.95" height="1.50" fill="#fad8c9"/>
<rect x="79.75" y="318.50" width="33.95" height="1.80" fill="#f9eae3"/>
<rect x="79.75" y="320.00" width="33.95" height="2.10" fill="#f88469"/>
<rect x="79.75" y="321.80" width="33.95" height="2.50" fill="#f99175"/>
<rect x="79.75" y="324.00" width="33.95" height="1.50" fill="#fcbda0"/>
<rect x="79.75" y="325.20" width="33.95" height="1.80" fill="#f99074"/>
<rect x="79.75" y="326.70" width="33.95" height="2.50" fill="#f99074"/>
<rect x="79.75" y="328.90" width="33.95" height="2.10" fill="#fad6c6"/>
<rect x="79.75" y="330.70" width="33.95" height="1.80" fill="#f8886c"/>
<rect x="79.75" y="332.20" width="33.95" height="2.50" fill="#fa9d81"/>
<rect x="79.75" y="334.40" width="33.95" height="2.90" fill="#f45d45"/>
<rect x="79.75" y="337.00" width="33.95" height="2.90" fill="#f05542"/>
<rect x="79.75" y="339.60" width="33.95" height="1.50" fill="#eb4a3c"/>
<rect x="79.75" y="340.80" width="33.95" height="2.10" fill="#fcb799"/>
<rect x="79.75" y="342.60" width="33.95" height="2.90" fill="#f77d62"/>
<rect x="79.75" y="345.20" width="33.95" height="2.90" fill="#fa9c80"/>
<rect x="79.75" y="347.80" width="33.95" height="1.50" fill="#f98f73"/>
<rect x="79.75" y="349.00" width="33.95" height="2.90" fill="#f66a51"/>
<rect x="79.75" y="351.60" width="33.95" height="1.80" fill="#e9453a"/>
<rect x="79.75" y="353.10" width="33.95" height="2.50" fill="#ee513f"/>
<rect x="79.75" y="355.30" width="33.95" height="1.50" fill="#e74138"/>
<rect x="79.75" y="356.50" width="33.95" height="1.50" fill="#e84339"/>
<rect x="79.75" y="357.70" width="33.95" height="2.50" fill="#df2f30"/>
<rect x="79.75" y="359.90" width="33.95" height="2.90" fill="#f66f55"/>
<rect x="79.75" y="362.50" width="33.95" height="2.50" fill="#e53c36"/>
<rect x="79.75" y="364.70" width="33.95" height="2.50" fill="#f77d63"/>
<rect x="79.75" y="366.90" width="33.95" height="2.50" fill="#e23533"/>
<rect x="79.75" y="369.10" width="33.95" height="2.10" fill="#e9453a"/>
<rect x="79.75" y="370.90" width="33.95" height="2.50" fill="#b4142a"/>
<rect x="79.75" y="373.10" width="33.95" height="1.50" fill="#bf192b"/>
<rect x="79.75" y="374.30" width="33.95" height="2.50" fill="#d3242c"/>
<rect x="79.75" y="376.50" width="33.95" height="2.50" fill="#c71e2b"/>
<rect x="79.75" y="378.70" width="33.95" height="2.10" fill="#a90e29"/>
<rect x="79.75" y="380.50" width="33.95" height="2.90" fill="#e33734"/>
<rect x="79.75" y="383.10" width="33.95" height="2.50" fill="#e03131"/>
<rect x="79.75" y="385.30" width="33.95" height="2.50" fill="#fbcab5"/>
<rect x="79.75" y="387.50" width="33.95" height="2.90" fill="#fbcdb8"/>
<rect x="79.75" y="390.10" width="33.95" height="1.80" fill="#fcbb9e"/>
<rect x="79.75" y="391.60" width="33.95" height="2.10" fill="#faa184"/>
<rect x="79.75" y="393.40" width="33.95" height="1.50" fill="#faddd1"/>
<rect x="79.75" y="394.60" width="33.95" height="2.10" fill="#faa488"/>
<rect x="79.75" y="396.40" width="33.95" height="2.50" fill="#faded1"/>
<rect x="79.75" y="398.60" width="33.95" height="2.50" fill="#f45c44"/>
<rect x="79.75" y="400.80" width="33.95" height="1.80" fill="#f05341"/>
<rect x="79.75" y="402.30" width="33.95" height="2.90" fill="#f99074"/>
<rect x="79.75" y="404.90" width="33.95" height="1.80" fill="#fa9e82"/>
<rect x="79.75" y="406.40" width="33.95" height="2.10" fill="#f98d71"/>
<rect x="79.75" y="408.20" width="33.95" height="1.80" fill="#faa488"/>
<rect x="79.75" y="409.70" width="33.95" height="2.90" fill="#f66c52"/>
<rect x="79.75" y="412.30" width="33.95" height="1.50" fill="#dc282d"/>
<rect x="79.75" y="413.50" width="33.95" height="2.90" fill="#e84339"/>
<rect x="79.75" y="416.10" width="33.95" height="2.50" fill="#f45c45"/>
<rect x="79.75" y="418.30" width="33.95" height="1.50" fill="#f88b6f"/>
<rect x="79.75" y="419.50" width="33.95" height="1.50" fill="#fbc2a8"/>
<rect x="79.75" y="420.70" width="33.95" height="2.50" fill="#fad6c6"/>
<rect x="79.75" y="422.90" width="33.95" height="2.50" fill="#f9e7df"/>
<rect x="79.75" y="425.10" width="33.95" height="1.50" fill="#f99478"/>
<rect x="79.75" y="426.30" width="33.95" height="2.50" fill="#f45c45"/>
<rect x="79.75" y="428.50" width="33.95" height="2.10" fill="#c91e2b"/>
<rect x="79.75" y="430.30" width="33.95" height="1.50" fill="#df2f30"/>
<rect x="79.75" y="431.50" width="33.95" height="1.80" fill="#de2c2f"/>
<rect x="79.75" y="433.00" width="33.95" height="2.90" fill="#e13332"/>
<rect x="79.75" y="435.60" width="33.95" height="2.10" fill="#fad3c1"/>
<rect x="79.75" y="437.40" width="33.95" height="2.90" fill="#f4f6f7"/>
<rect x="79.75" y="440.00" width="33.95" height="1.80" fill="#f9987c"/>
<rect x="79.75" y="441.50" width="33.95" height="2.10" fill="#f66c52"/>
<rect x="79.75" y="443.30" width="33.95" height="2.10" fill="#fba689"/>
<rect x="79.75" y="445.10" width="33.95" height="1.80" fill="#fba98c"/>
<rect x="79.75" y="446.60" width="33.95" height="2.10" fill="#fbc2a8"/>
<rect x="79.75" y="448.40" width="33.95" height="1.80" fill="#fa9e81"/>
<rect x="79.75" y="449.90" width="33.95" height="1.50" fill="#fbaf91"/>
<rect x="79.75" y="451.10" width="33.95" height="1.50" fill="#f98e73"/>
<rect x="79.75" y="452.30" width="33.95" height="1.50" fill="#f66a50"/>
<rect x="79.75" y="453.50" width="33.95" height="2.50" fill="#faa084"/>
<rect x="79.75" y="455.70" width="33.95" height="1.80" fill="#fa9f82"/>
<rect x="79.75" y="457.20" width="33.95" height="2.10" fill="#f66c52"/>
<rect x="79.75" y="459.00" width="33.95" height="1.50" fill="#f88166"/>
<rect x="79.75" y="460.20" width="33.95" height="2.50" fill="#fcbea3"/>
<rect x="79.75" y="462.40" width="33.95" height="1.50" fill="#f88c70"/>
<rect x="79.75" y="463.60" width="33.95" height="2.50" fill="#f9e5dd"/>
<rect x="79.75" y="465.80" width="33.95" height="1.80" fill="#f55f46"/>
<rect x="79.75" y="467.30" width="33.95" height="2.50" fill="#f66c53"/>
<rect x="79.75" y="469.50" width="33.95" height="1.80" fill="#c91e2b"/>
<rect x="79.75" y="471.00" width="33.95" height="2.10" fill="#c51c2b"/>
<rect x="79.75" y="472.80" width="33.95" height="1.80" fill="#e13332"/>
<rect x="79.75" y="474.30" width="33.95" height="2.10" fill="#ac1029"/>
<rect x="79.75" y="476.10" width="33.95" height="2.50" fill="#f56047"/>
<rect x="79.75" y="478.30" width="33.95" height="1.40" fill="#e13332"/>
<rect x="113.40" y="257.80" width="33.95" height="2.10" fill="#8dd0e8"/>
<rect x="113.40" y="259.60" width="33.95" height="2.10" fill="#0e81c1"/>
<rect x="113.40" y="261.40" width="33.95" height="2.90" fill="#8acee8"/>
<rect x="113.40" y="264.00" width="33.95" height="1.80" fill="#84cbe6"/>
<rect x="113.40" y="265.50" width="33.95" height="1.80" fill="#52b3dc"/>
<rect x="113.40" y="267.00" width="33.95" height="1.50" fill="#0f83c3"/>
<rect x="113.40" y="268.20" width="33.95" height="1.80" fill="#0e80c1"/>
<rect x="113.40" y="269.70" width="33.95" height="2.50" fill="#0f83c3"/>
<rect x="113.40" y="271.90" width="33.95" height="2.10" fill="#30a3d5"/>
<rect x="113.40" y="273.70" width="33.95" height="2.90" fill="#7dc8e5"/>
<rect x="113.40" y="276.30" width="33.95" height="2.50" fill="#66bde0"/>
<rect x="113.40" y="278.50" width="33.95" height="1.80" fill="#2aa0d4"/>
<rect x="113.40" y="280.00" width="33.95" height="1.80" fill="#128bc9"/>
<rect x="113.40" y="281.50" width="33.95" height="2.50" fill="#128ac8"/>
<rect x="113.40" y="283.70" width="33.95" height="2.50" fill="#1594cf"/>
<rect x="113.40" y="285.90" width="33.95" height="2.10" fill="#0b79bc"/>
<rect x="113.40" y="287.70" width="33.95" height="1.80" fill="#0b78bb"/>
<rect x="113.40" y="289.20" width="33.95" height="1.50" fill="#085ea4"/>
<rect x="113.40" y="290.40" width="33.95" height="2.50" fill="#0e82c2"/>
<rect x="113.40" y="292.60" width="33.95" height="2.10" fill="#7cc8e5"/>
<rect x="113.40" y="294.40" width="33.95" height="2.10" fill="#c8e6f1"/>
<rect x="113.40" y="296.20" width="33.95" height="2.50" fill="#2fa2d5"/>
<rect x="113.40" y="298.40" width="33.95" height="2.50" fill="#59b6de"/>
<rect x="113.40" y="300.60" width="33.95" height="2.10" fill="#1490cc"/>
<rect x="113.40" y="302.40" width="33.95" height="2.10" fill="#5cb8de"/>
<rect x="113.40" y="304.20" width="33.95" height="1.80" fill="#86cce7"/>
<rect x="113.40" y="305.70" width="33.95" height="1.50" fill="#7fc9e5"/>
<rect x="113.40" y="306.90" width="33.95" height="1.80" fill="#1491cd"/>
<rect x="113.40" y="308.40" width="33.95" height="1.50" fill="#0b78bc"/>
<rect x="113.40" y="309.60" width="33.95" height="2.10" fill="#0c7abd"/>
<rect x="113.40" y="311.40" width="33.95" height="2.10" fill="#a3d9ec"/>
<rect x="113.40" y="313.20" width="33.95" height="1.00" fill="#b5dfee"/>
<rect x="113.40" y="313.90" width="33.95" height="2.50" fill="#fcbda1"/>
<rect x="113.40" y="316.10" width="33.95" height="1.80" fill="#fcb699"/>
<rect x="113.40" y="317.60" width="33.95" height="1.50" fill="#fad4c3"/>
<rect x="113.40" y="318.80" width="33.95" height="2.10" fill="#fadfd3"/>
<rect x="113.40" y="320.60" width="33.95" height="1.50" fill="#f9e4db"/>
<rect x="113.40" y="321.80" width="33.95" height="2.50" fill="#fbc6ae"/>
<rect x="113.40" y="324.00" width="33.95" height="1.80" fill="#fbad8f"/>
<rect x="113.40" y="325.50" width="33.95" height="2.90" fill="#fbae90"/>
<rect x="113.40" y="328.10" width="33.95" height="2.90" fill="#fcbfa4"/>
<rect x="113.40" y="330.70" width="33.95" height="1.50" fill="#fad7c7"/>
<rect x="113.40" y="331.90" width="33.95" height="1.80" fill="#fbcab4"/>
<rect x="113.40" y="333.40" width="33.95" height="2.50" fill="#f9eeea"/>
<rect x="113.40" y="335.60" width="33.95" height="1.50" fill="#fbc6af"/>
<rect x="113.40" y="336.80" width="33.95" height="2.50" fill="#fad7c7"/>
<rect x="113.40" y="339.00" width="33.95" height="2.50" fill="#fcbea2"/>
<rect x="113.40" y="341.20" width="33.95" height="2.50" fill="#fbc6af"/>
<rect x="113.40" y="343.40" width="33.95" height="2.50" fill="#fadbcd"/>
<rect x="113.40" y="345.60" width="33.95" height="1.50" fill="#fad2bf"/>
<rect x="113.40" y="346.80" width="33.95" height="1.80" fill="#fcba9c"/>
<rect x="113.40" y="348.30" width="33.95" height="2.50" fill="#fba88b"/>
<rect x="113.40" y="350.50" width="33.95" height="1.80" fill="#fbcfbb"/>
<rect x="113.40" y="352.00" width="33.95" height="2.10" fill="#f9e7df"/>
<rect x="113.40" y="353.80" width="33.95" height="1.50" fill="#fba88b"/>
<rect x="113.40" y="355.00" width="33.95" height="1.80" fill="#fbc3aa"/>
<rect x="113.40" y="356.50" width="33.95" height="2.90" fill="#fbc4ac"/>
<rect x="113.40" y="359.10" width="33.95" height="2.90" fill="#fadbcd"/>
<rect x="113.40" y="361.70" width="33.95" height="1.50" fill="#edf4f6"/>
<rect x="113.40" y="362.90" width="33.95" height="2.50" fill="#fbcbb5"/>
<rect x="113.40" y="365.10" width="33.95" height="2.90" fill="#fbcfbc"/>
<rect x="113.40" y="367.70" width="33.95" height="1.80" fill="#fbc8b1"/>
<rect x="113.40" y="369.20" width="33.95" height="1.50" fill="#f98f74"/>
<rect x="113.40" y="370.40" width="33.95" height="2.50" fill="#fcb598"/>
<rect x="113.40" y="372.60" width="33.95" height="1.80" fill="#fcb89a"/>
<rect x="113.40" y="374.10" width="33.95" height="2.50" fill="#fcbda1"/>
<rect x="113.40" y="376.30" width="33.95" height="1.50" fill="#fcb497"/>
<rect x="113.40" y="377.50" width="33.95" height="2.50" fill="#fbcab5"/>
<rect x="113.40" y="379.70" width="33.95" height="2.10" fill="#fbccb7"/>
<rect x="113.40" y="381.50" width="33.95" height="2.50" fill="#fbcab4"/>
<rect x="113.40" y="383.70" width="33.95" height="1.80" fill="#f9ece6"/>
<rect x="113.40" y="385.20" width="33.95" height="2.90" fill="#fbc6af"/>
<rect x="113.40" y="387.80" width="33.95" height="1.80" fill="#fa9b7f"/>
<rect x="113.40" y="389.30" width="33.95" height="1.80" fill="#f67056"/>
<rect x="113.40" y="390.80" width="33.95" height="1.50" fill="#fad1bf"/>
<rect x="113.40" y="392.00" width="33.95" height="2.10" fill="#f9ece7"/>
<rect x="113.40" y="393.80" width="33.95" height="1.50" fill="#fa997d"/>
<rect x="113.40" y="395.00" width="33.95" height="2.50" fill="#fcb395"/>
<rect x="113.40" y="397.20" width="33.95" height="2.90" fill="#fa9e82"/>
<rect x="113.40" y="399.80" width="33.95" height="1.80" fill="#fcb99b"/>
<rect x="113.40" y="401.30" width="33.95" height="2.90" fill="#fba78a"/>
<rect x="113.40" y="403.90" width="33.95" height="1.50" fill="#fcb698"/>
<rect x="113.40" y="405.10" width="33.95" height="1.50" fill="#fad1bf"/>
<rect x="113.40" y="406.30" width="33.95" height="2.50" fill="#faddd0"/>
<rect x="113.40" y="408.50" width="33.95" height="2.90" fill="#ee4f3f"/>
<rect x="113.40" y="411.10" width="33.95" height="1.80" fill="#ee4f3f"/>
<rect x="113.40" y="412.60" width="33.95" height="1.80" fill="#f15642"/>
<rect x="113.40" y="414.10" width="33.95" height="2.10" fill="#f5654b"/>
<rect x="113.40" y="415.90" width="33.95" height="1.50" fill="#f56249"/>
<rect x="113.40" y="417.10" width="33.95" height="2.90" fill="#f88065"/>
<rect x="113.40" y="419.70" width="33.95" height="1.50" fill="#f88b6f"/>
<rect x="113.40" y="420.90" width="33.95" height="1.80" fill="#f99377"/>
<rect x="113.40" y="422.40" width="33.95" height="2.10" fill="#fcbda0"/>
<rect x="113.40" y="424.20" width="33.95" height="2.90" fill="#fa9d81"/>
<rect x="113.40" y="426.80" width="33.95" height="1.50" fill="#f9e9e1"/>
<rect x="113.40" y="428.00" width="33.95" height="2.10" fill="#fad4c2"/>
<rect x="113.40" y="429.80" width="33.95" height="1.80" fill="#f9ede8"/>
<rect x="113.40" y="431.30" width="33.95" height="2.90" fill="#f9e8e1"/>
<rect x="113.40" y="433.90" width="33.95" height="2.90" fill="#c01a2b"/>
<rect x="113.40" y="436.50" width="33.95" height="1.50" fill="#e43935"/>
<rect x="113.40" y="437.70" width="33.95" height="2.10" fill="#dc292d"/>
<rect x="113.40" y="439.50" width="33.95" height="1.80" fill="#d3232c"/>
<rect x="113.40" y="441.00" width="33.95" height="2.50" fill="#ce212c"/>
<rect x="113.40" y="443.20" width="33.95" height="2.50" fill="#e13232"/>
<rect x="113.40" y="445.40" width="33.95" height="1.50" fill="#fba78a"/>
<rect x="113.40" y="446.60" width="33.95" height="1.80" fill="#f7775c"/>
<rect x="113.40" y="448.10" width="33.95" height="2.50" fill="#faa588"/>
<rect x="113.40" y="450.30" width="33.95" height="1.50" fill="#faa084"/>
<rect x="113.40" y="451.50" width="33.95" height="1.80" fill="#f8f4f2"/>
<rect x="113.40" y="453.00" width="33.95" height="2.90" fill="#fbc5ad"/>
<rect x="113.40" y="455.60" width="33.95" height="1.50" fill="#e84239"/>
<rect x="113.40" y="456.80" width="33.95" height="2.50" fill="#eb493c"/>
<rect x="113.40" y="459.00" width="33.95" height="1.50" fill="#f55f46"/>
<rect x="113.40" y="460.20" width="33.95" height="2.90" fill="#e13232"/>
<rect x="113.40" y="462.80" width="33.95" height="1.80" fill="#f45c44"/>
<rect x="113.40" y="464.30" width="33.95" height="2.50" fill="#df2e30"/>
<rect x="113.40" y="466.50" width="33.95" height="2.50" fill="#f35c44"/>
<rect x="113.40" y="468.70" width="33.95" height="1.80" fill="#ee4f3f"/>
<rect x="113.40" y="470.20" width="33.95" height="2.10" fill="#fbb194"/>
<rect x="113.40" y="472.00" width="33.95" height="1.80" fill="#faa184"/>
<rect x="113.40" y="473.50" width="33.95" height="2.10" fill="#faa487"/>
<rect x="113.40" y="475.30" width="33.95" height="1.50" fill="#eb483c"/>
<rect x="113.40" y="476.50" width="33.95" height="2.90" fill="#f66b51"/>
<rect x="113.40" y="479.10" width="33.95" height="0.60" fill="#f05341"/>
<rect x="147.05" y="257.80" width="33.95" height="1.80" fill="#d6252c"/>
<rect x="147.05" y="259.30" width="33.95" height="1.80" fill="#d0222c"/>
<rect x="147.05" y="260.80" width="33.95" height="2.50" fill="#a20b28"/>
<rect x="147.05" y="263.00" width="33.95" height="1.80" fill="#aa0f29"/>
<rect x="147.05" y="264.50" width="33.95" height="2.10" fill="#d6252d"/>
<rect x="147.05" y="266.30" width="33.95" height="2.90" fill="#bb172a"/>
<rect x="147.05" y="268.90" width="33.95" height="2.90" fill="#eb493c"/>
<rect x="147.05" y="271.50" width="33.95" height="1.50" fill="#ed4d3e"/>
<rect x="147.05" y="272.70" width="33.95" height="1.50" fill="#f7785e"/>
<rect x="147.05" y="273.90" width="33.95" height="1.80" fill="#f56249"/>
<rect x="147.05" y="275.40" width="33.95" height="2.50" fill="#e84239"/>
<rect x="147.05" y="277.60" width="33.95" height="2.90" fill="#f35b44"/>
<rect x="147.05" y="280.20" width="33.95" height="2.10" fill="#fbc7b0"/>
<rect x="147.05" y="282.00" width="33.95" height="2.90" fill="#fbaa8d"/>
<rect x="147.05" y="284.60" width="33.95" height="2.50" fill="#fad2c0"/>
<rect x="147.05" y="286.80" width="33.95" height="2.90" fill="#d0222c"/>
<rect x="147.05" y="289.40" width="33.95" height="2.90" fill="#f9967a"/>
<rect x="147.05" y="292.00" width="33.95" height="2.50" fill="#fba689"/>
<rect x="147.05" y="294.20" width="33.95" height="2.10" fill="#f35b44"/>
<rect x="147.05" y="296.00" width="33.95" height="2.90" fill="#f56148"/>
<rect x="147.05" y="298.60" width="33.95" height="1.80" fill="#f56249"/>
<rect x="147.05" y="300.10" width="33.95" height="1.50" fill="#f8886d"/>
<rect x="147.05" y="301.30" width="33.95" height="2.10" fill="#fbc3a9"/>
<rect x="147.05" y="303.10" width="33.95" height="2.50" fill="#fad6c6"/>
<rect x="147.05" y="305.30" width="33.95" height="2.10" fill="#fcb496"/>
<rect x="147.05" y="307.10" width="33.95" height="1.80" fill="#f9967a"/>
<rect x="147.05" y="308.60" width="33.95" height="1.50" fill="#f8886c"/>
<rect x="147.05" y="309.80" width="33.95" height="2.10" fill="#ea473b"/>
<rect x="147.05" y="311.60" width="33.95" height="2.10" fill="#fbad8f"/>
<rect x="147.05" y="313.40" width="33.95" height="0.80" fill="#fbc8b1"/>
<rect x="147.05" y="313.90" width="33.95" height="2.90" fill="#7fc9e5"/>
<rect x="147.05" y="316.50" width="33.95" height="1.50" fill="#9ad6eb"/>
<rect x="147.05" y="317.70" width="33.95" height="1.50" fill="#b0deee"/>
<rect x="147.05" y="318.90" width="33.95" height="2.90" fill="#93d2e9"/>
<rect x="147.05" y="321.50" width="33.95" height="2.50" fill="#1695cf"/>
<rect x="147.05" y="323.70" width="33.95" height="2.50" fill="#138fcb"/>
<rect x="147.05" y="325.90" width="33.95" height="2.50" fill="#1a98d1"/>
<rect x="147.05" y="328.10" width="33.95" height="1.80" fill="#39a7d7"/>
<rect x="147.05" y="329.60" width="33.95" height="2.90" fill="#1189c7"/>
<rect x="147.05" y="332.20" width="33.95" height="2.90" fill="#3ba8d7"/>
<rect x="147.05" y="334.80" width="33.95" height="2.10" fill="#1696d0"/>
<rect x="147.05" y="336.60" width="33.95" height="2.10" fill="#92d2e9"/>
<rect x="147.05" y="338.40" width="33.95" height="2.10" fill="#94d3ea"/>
<rect x="147.05" y="340.20" width="33.95" height="1.50" fill="#2ea2d5"/>
<rect x="147.05" y="341.40" width="33.95" height="1.80" fill="#1593ce"/>
<rect x="147.05" y="342.90" width="33.95" height="1.80" fill="#138dca"/>
<rect x="147.05" y="344.40" width="33.95" height="1.80" fill="#0d7dbf"/>
<rect x="147.05" y="345.90" width="33.95" height="2.90" fill="#0b78bc"/>
<rect x="147.05" y="348.50" width="33.95" height="2.50" fill="#52b3dc"/>
<rect x="147.05" y="350.70" width="33.95" height="2.90" fill="#1696d0"/>
<rect x="147.05" y="353.30" width="33.95" height="2.90" fill="#1d99d1"/>
<rect x="147.05" y="355.90" width="33.95" height="2.10" fill="#148fcc"/>
<rect x="147.05" y="357.70" width="33.95" height="1.50" fill="#0c7abd"/>
<rect x="147.05" y="358.90" width="33.95" height="1.80" fill="#0e80c1"/>
<rect x="147.05" y="360.40" width="33.95" height="2.50" fill="#2da1d5"/>
<rect x="147.05" y="362.60" width="33.95" height="2.90" fill="#1188c6"/>
<rect x="147.05" y="365.20" width="33.95" height="2.90" fill="#0e80c1"/>
<rect x="147.05" y="367.80" width="33.95" height="1.80" fill="#84cbe6"/>
<rect x="147.05" y="369.30" width="33.95" height="2.10" fill="#5fb9df"/>
<rect x="147.05" y="371.10" width="33.95" height="2.10" fill="#1593ce"/>
<rect x="147.05" y="372.90" width="33.95" height="1.50" fill="#61badf"/>
<rect x="147.05" y="374.10" width="33.95" height="2.90" fill="#44acd9"/>
<rect x="147.05" y="376.70" width="33.95" height="1.50" fill="#a1d8ec"/>
<rect x="147.05" y="377.90" width="33.95" height="2.50" fill="#f8f6f4"/>
<rect x="147.05" y="380.10" width="33.95" height="1.80" fill="#48aeda"/>
<rect x="147.05" y="381.60" width="33.95" height="2.50" fill="#0973b8"/>
<rect x="147.05" y="383.80" width="33.95" height="1.50" fill="#1594ce"/>
<rect x="147.05" y="385.00" width="33.95" height="1.50" fill="#0e7fc1"/>
<rect x="147.05" y="386.20" width="33.95" height="1.50" fill="#0b79bc"/>
<rect x="147.05" y="387.40" width="33.95" height="1.50" fill="#128ac8"/>
<rect x="147.05" y="388.60" width="33.95" height="2.90" fill="#1490cc"/>
<rect x="147.05" y="391.20" width="33.95" height="1.80" fill="#0b78bc"/>
<rect x="147.05" y="392.70" width="33.95" height="2.90" fill="#3ba8d7"/>
<rect x="147.05" y="395.30" width="33.95" height="1.50" fill="#1491cd"/>
<rect x="147.05" y="396.50" width="33.95" height="2.10" fill="#239cd3"/>
<rect x="147.05" y="398.30" width="33.95" height="1.80" fill="#209bd2"/>
<rect x="147.05" y="399.80" width="33.95" height="2.10" fill="#128bc9"/>
<rect x="147.05" y="401.60" width="33.95" height="1.50" fill="#3aa8d7"/>
<rect x="147.05" y="402.80" width="33.95" height="1.80" fill="#1188c6"/>
<rect x="147.05" y="404.30" width="33.95" height="2.50" fill="#37a6d7"/>
<rect x="147.05" y="406.50" width="33.95" height="1.50" fill="#44acd9"/>
<rect x="147.05" y="407.70" width="33.95" height="2.10" fill="#40aad8"/>
<rect x="147.05" y="409.50" width="33.95" height="1.80" fill="#0e80c1"/>
<rect x="147.05" y="411.00" width="33.95" height="2.10" fill="#0b78bc"/>
<rect x="147.05" y="412.80" width="33.95" height="1.50" fill="#0863a9"/>
<rect x="147.05" y="414.00" width="33.95" height="2.10" fill="#1189c7"/>
<rect x="147.05" y="415.80" width="33.95" height="1.50" fill="#1592ce"/>
<rect x="147.05" y="417.00" width="33.95" height="2.10" fill="#39a7d7"/>
<rect x="147.05" y="418.80" width="33.95" height="1.80" fill="#3da9d8"/>
<rect x="147.05" y="420.30" width="33.95" height="2.10" fill="#148fcb"/>
<rect x="147.05" y="422.10" width="33.95" height="2.50" fill="#1187c6"/>
<rect x="147.05" y="424.30" width="33.95" height="1.50" fill="#086cb2"/>
<rect x="147.05" y="425.50" width="33.95" height="2.90" fill="#128ac8"/>
<rect x="147.05" y="428.10" width="33.95" height="1.50" fill="#1188c6"/>
<rect x="147.05" y="429.30" width="33.95" height="2.90" fill="#5fb9df"/>
<rect x="147.05" y="431.90" width="33.95" height="1.80" fill="#8acee8"/>
<rect x="147.05" y="433.40" width="33.95" height="2.10" fill="#b6e0ef"/>
<rect x="147.05" y="435.20" width="33.95" height="2.10" fill="#b1deee"/>
<rect x="147.05" y="437.00" width="33.95" height="1.50" fill="#9ad5eb"/>
<rect x="147.05" y="438.20" width="33.95" height="1.80" fill="#1491cd"/>
<rect x="147.05" y="439.70" width="33.95" height="2.90" fill="#48aeda"/>
<rect x="147.05" y="442.30" width="33.95" height="1.80" fill="#0e80c1"/>
<rect x="147.05" y="443.80" width="33.95" height="1.50" fill="#1188c6"/>
<rect x="147.05" y="445.00" width="33.95" height="1.50" fill="#1491cc"/>
<rect x="147.05" y="446.20" width="33.95" height="1.50" fill="#1492cd"/>
<rect x="147.05" y="447.40" width="33.95" height="1.50" fill="#1188c6"/>
<rect x="147.05" y="448.60" width="33.95" height="1.50" fill="#63bbe0"/>
<rect x="147.05" y="449.80" width="33.95" height="2.50" fill="#96d4ea"/>
<rect x="147.05" y="452.00" width="33.95" height="2.90" fill="#c2e4f0"/>
<rect x="147.05" y="454.60" width="33.95" height="1.80" fill="#9bd6eb"/>
<rect x="147.05" y="456.10" width="33.95" height="2.50" fill="#d4ebf3"/>
<rect x="147.05" y="458.30" width="33.95" height="2.10" fill="#addced"/>
<rect x="147.05" y="460.10" width="33.95" height="2.90" fill="#ddeef4"/>
<rect x="147.05" y="462.70" width="33.95" height="2.90" fill="#1189c7"/>
<rect x="147.05" y="465.30" width="33.95" height="1.50" fill="#289fd4"/>
<rect x="147.05" y="466.50" width="33.95" height="2.90" fill="#8ccfe8"/>
<rect x="147.05" y="469.10" width="33.95" height="2.50" fill="#b8e0ef"/>
<rect x="147.05" y="471.30" width="33.95" height="2.90" fill="#086db3"/>
<rect x="147.05" y="473.90" width="33.95" height="2.90" fill="#118ac8"/>
<rect x="147.05" y="476.50" width="33.95" height="2.50" fill="#1187c6"/>
<rect x="147.05" y="478.70" width="33.95" height="1.00" fill="#1592cd"/>
<rect x="180.70" y="257.80" width="33.95" height="1.80" fill="#f99377"/>
<rect x="180.70" y="259.30" width="33.95" height="2.10" fill="#f56148"/>
<rect x="180.70" y="261.10" width="33.95" height="2.50" fill="#de2d2f"/>
<rect x="180.70" y="263.30" width="33.95" height="1.50" fill="#e53b36"/>
<rect x="180.70" y="264.50" width="33.95" height="2.50" fill="#eb4a3c"/>
<rect x="180.70" y="266.70" width="33.95" height="1.80" fill="#fa9a7e"/>
<rect x="180.70" y="268.20" width="33.95" height="2.10" fill="#f67157"/>
<rect x="180.70" y="270.00" width="33.95" height="1.50" fill="#de2d2f"/>
<rect x="180.70" y="271.20" width="33.95" height="1.80" fill="#e03131"/>
<rect x="180.70" y="272.70" width="33.95" height="2.50" fill="#bf192b"/>
<rect x="180.70" y="274.90" width="33.95" height="1.50" fill="#cd202c"/>
<rect x="180.70" y="276.10" width="33.95" height="2.50" fill="#c51d2b"/>
<rect x="180.70" y="278.30" width="33.95" height="1.50" fill="#d9272d"/>
<rect x="180.70" y="279.50" width="33.95" height="2.50" fill="#b4142a"/>
<rect x="180.70" y="281.70" width="33.95" height="1.80" fill="#d7262d"/>
<rect x="180.70" y="283.20" width="33.95" height="2.50" fill="#fcb395"/>
<rect x="180.70" y="285.40" width="33.95" height="2.90" fill="#f67056"/>
<rect x="180.70" y="288.00" width="33.95" height="1.50" fill="#fcb496"/>
<rect x="180.70" y="289.20" width="33.95" height="1.50" fill="#fadbcd"/>
<rect x="180.70" y="290.40" width="33.95" height="2.10" fill="#fbc8b2"/>
<rect x="180.70" y="292.20" width="33.95" height="2.10" fill="#f88469"/>
<rect x="180.70" y="294.00" width="33.95" height="1.80" fill="#f99075"/>
<rect x="180.70" y="295.50" width="33.95" height="2.90" fill="#f8876c"/>
<rect x="180.70" y="298.10" width="33.95" height="1.50" fill="#fad4c4"/>
<rect x="180.70" y="299.30" width="33.95" height="2.50" fill="#f8866b"/>
<rect x="180.70" y="301.50" width="33.95" height="2.10" fill="#fbac8f"/>
<rect x="180.70" y="303.30" width="33.95" height="2.90" fill="#f25742"/>
<rect x="180.70" y="305.90" width="33.95" height="2.90" fill="#ed4e3e"/>
<rect x="180.70" y="308.50" width="33.95" height="2.90" fill="#cd202c"/>
<rect x="180.70" y="311.10" width="33.95" height="1.80" fill="#ec4b3d"/>
<rect x="180.70" y="312.60" width="33.95" height="1.60" fill="#e03031"/>
<rect x="180.70" y="313.90" width="33.95" height="1.80" fill="#1b99d1"/>
<rect x="180.70" y="315.40" width="33.95" height="1.50" fill="#5ab7de"/>
<rect x="180.70" y="316.60" width="33.95" height="1.50" fill="#35a5d6"/>
<rect x="180.70" y="317.80" width="33.95" height="1.80" fill="#1997d1"/>
<rect x="180.70" y="319.30" width="33.95" height="2.90" fill="#289fd4"/>
<rect x="180.70" y="321.90" width="33.95" height="2.10" fill="#1594ce"/>
<rect x="180.70" y="323.70" width="33.95" height="1.50" fill="#3ba8d8"/>
<rect x="180.70" y="324.90" width="33.95" height="2.50" fill="#128cca"/>
<rect x="180.70" y="327.10" width="33.95" height="2.10" fill="#209bd2"/>
<rect x="180.70" y="328.90" width="33.95" height="2.50" fill="#1085c4"/>
<rect x="180.70" y="331.10" width="33.95" height="2.50" fill="#299fd4"/>
<rect x="180.70" y="333.30" width="33.95" height="2.10" fill="#8acee8"/>
<rect x="180.70" y="335.10" width="33.95" height="2.90" fill="#35a5d6"/>
<rect x="180.70" y="337.70" width="33.95" height="2.90" fill="#229cd2"/>
<rect x="180.70" y="340.30" width="33.95" height="2.50" fill="#57b5dd"/>
<rect x="180.70" y="342.50" width="33.95" height="1.80" fill="#1695cf"/>
<rect x="180.70" y="344.00" width="33.95" height="2.90" fill="#279ed3"/>
<rect x="180.70" y="346.60" width="33.95" height="2.50" fill="#1085c4"/>
<rect x="180.70" y="348.80" width="33.95" height="1.50" fill="#1085c5"/>
<rect x="180.70" y="350.00" width="33.95" height="2.50" fill="#0a76ba"/>
<rect x="180.70" y="352.20" width="33.95" height="1.50" fill="#1491cd"/>
<rect x="180.70" y="353.40" width="33.95" height="2.90" fill="#1491cc"/>
<rect x="180.70" y="356.00" width="33.95" height="2.10" fill="#229cd2"/>
<rect x="180.70" y="357.80" width="33.95" height="2.10" fill="#148fcc"/>
<rect x="180.70" y="359.60" width="33.95" height="1.50" fill="#1084c4"/>
<rect x="180.70" y="360.80" width="33.95" height="1.80" fill="#1897d0"/>
<rect x="180.70" y="362.30" width="33.95" height="2.90" fill="#1491cd"/>
<rect x="180.70" y="364.90" width="33.95" height="1.50" fill="#1b98d1"/>
<rect x="180.70" y="366.10" width="33.95" height="1.50" fill="#1492cd"/>
<rect x="180.70" y="367.30" width="33.95" height="2.10" fill="#2ca0d4"/>
<rect x="180.70" y="369.10" width="33.95" height="2.10" fill="#2ba0d4"/>
<rect x="180.70" y="370.90" width="33.95" height="1.80" fill="#1188c6"/>
<rect x="180.70" y="372.40" width="33.95" height="1.50" fill="#1594cf"/>
<rect x="180.70" y="373.60" width="33.95" height="2.10" fill="#6cc0e2"/>
<rect x="180.70" y="375.40" width="33.95" height="2.50" fill="#128bc9"/>
<rect x="180.70" y="377.60" width="33.95" height="2.10" fill="#1594cf"/>
<rect x="180.70" y="379.40" width="33.95" height="2.90" fill="#39a7d7"/>
<rect x="180.70" y="382.00" width="33.95" height="1.80" fill="#128cc9"/>
<rect x="180.70" y="383.50" width="33.95" height="2.90" fill="#209bd2"/>
<rect x="180.70" y="386.10" width="33.95" height="2.10" fill="#229cd2"/>
<rect x="180.70" y="387.90" width="33.95" height="2.90" fill="#1492cd"/>
<rect x="180.70" y="390.50" width="33.95" height="2.90" fill="#1491cd"/>
<rect x="180.70" y="393.10" width="33.95" height="2.50" fill="#0a76ba"/>
<rect x="180.70" y="395.30" width="33.95" height="1.50" fill="#086db3"/>
<rect x="180.70" y="396.50" width="33.95" height="2.90" fill="#0973b8"/>
<rect x="180.70" y="399.10" width="33.95" height="2.90" fill="#138ecb"/>
<rect x="180.70" y="401.70" width="33.95" height="2.90" fill="#0a76ba"/>
<rect x="180.70" y="404.30" width="33.95" height="2.90" fill="#138dca"/>
<rect x="180.70" y="406.90" width="33.95" height="1.50" fill="#0e81c1"/>
<rect x="180.70" y="408.10" width="33.95" height="2.90" fill="#0e81c2"/>
<rect x="180.70" y="410.70" width="33.95" height="1.50" fill="#5cb8de"/>
<rect x="180.70" y="411.90" width="33.95" height="2.10" fill="#299fd4"/>
<rect x="180.70" y="413.70" width="33.95" height="2.90" fill="#4fb2dc"/>
<rect x="180.70" y="416.30" width="33.95" height="1.50" fill="#1188c7"/>
<rect x="180.70" y="417.50" width="33.95" height="2.10" fill="#c1e4f0"/>
<rect x="180.70" y="419.30" width="33.95" height="2.10" fill="#bfe3f0"/>
<rect x="180.70" y="421.10" width="33.95" height="2.50" fill="#95d4ea"/>
<rect x="180.70" y="423.30" width="33.95" height="2.10" fill="#bfe3f0"/>
<rect x="180.70" y="425.10" width="33.95" height="2.90" fill="#a6daec"/>
<rect x="180.70" y="427.70" width="33.95" height="2.50" fill="#4fb2dc"/>
<rect x="180.70" y="429.90" width="33.95" height="1.80" fill="#3faad8"/>
<rect x="180.70" y="431.40" width="33.95" height="2.10" fill="#219bd2"/>
<rect x="180.70" y="433.20" width="33.95" height="2.90" fill="#82cae6"/>
<rect x="180.70" y="435.80" width="33.95" height="2.10" fill="#43acd9"/>
<rect x="180.70" y="437.60" width="33.95" height="1.50" fill="#1594cf"/>
<rect x="180.70" y="438.80" width="33.95" height="2.90" fill="#a0d8eb"/>
<rect x="180.70" y="441.40" width="33.95" height="2.50" fill="#c6e6f1"/>
<rect x="180.70" y="443.60" width="33.95" height="2.50" fill="#2da1d5"/>
<rect x="180.70" y="445.80" width="33.95" height="1.80" fill="#1490cc"/>
<rect x="180.70" y="447.30" width="33.95" height="2.90" fill="#1188c7"/>
<rect x="180.70" y="449.90" width="33.95" height="2.10" fill="#2ca1d4"/>
<rect x="180.70" y="451.70" width="33.95" height="2.10" fill="#0f83c3"/>
<rect x="180.70" y="453.50" width="33.95" height="2.90" fill="#0a76ba"/>
<rect x="180.70" y="456.10" width="33.95" height="1.80" fill="#1187c6"/>
<rect x="180.70" y="457.60" width="33.95" height="2.90" fill="#1897d0"/>
<rect x="180.70" y="460.20" width="33.95" height="2.90" fill="#32a4d6"/>
<rect x="180.70" y="462.80" width="33.95" height="2.10" fill="#2aa0d4"/>
<rect x="180.70" y="464.60" width="33.95" height="1.50" fill="#0d7dbf"/>
<rect x="180.70" y="465.80" width="33.95" height="1.80" fill="#1086c5"/>
<rect x="180.70" y="467.30" width="33.95" height="2.90" fill="#1594ce"/>
<rect x="180.70" y="469.90" width="33.95" height="2.10" fill="#0971b7"/>
<rect x="180.70" y="471.70" width="33.95" height="1.50" fill="#aedded"/>
<rect x="180.70" y="472.90" width="33.95" height="1.50" fill="#a3d9ec"/>
<rect x="180.70" y="474.10" width="33.95" height="1.50" fill="#9ad5eb"/>
<rect x="180.70" y="475.30" width="33.95" height="1.50" fill="#30a3d5"/>
<rect x="180.70" y="476.50" width="33.95" height="2.90" fill="#138eca"/>
<rect x="180.70" y="479.10" width="33.95" height="0.60" fill="#8bcfe8"/>
<rect x="214.35" y="257.80" width="33.95" height="2.50" fill="#fa9e82"/>
<rect x="214.35" y="260.00" width="33.95" height="1.80" fill="#fad1be"/>
<rect x="214.35" y="261.50" width="33.95" height="2.10" fill="#fad4c4"/>
<rect x="214.35" y="263.30" width="33.95" height="1.50" fill="#f9e3d9"/>
<rect x="214.35" y="264.50" width="33.95" height="1.50" fill="#fbc7b0"/>
<rect x="214.35" y="265.70" width="33.95" height="2.10" fill="#fbae90"/>
<rect x="214.35" y="267.50" width="33.95" height="2.50" fill="#fbc4ab"/>
<rect x="214.35" y="269.70" width="33.95" height="2.50" fill="#fbb294"/>
<rect x="214.35" y="271.90" width="33.95" height="1.80" fill="#fcbea3"/>
<rect x="214.35" y="273.40" width="33.95" height="1.50" fill="#f99579"/>
<rect x="214.35" y="274.60" width="33.95" height="2.90" fill="#fcba9d"/>
<rect x="214.35" y="277.20" width="33.95" height="2.50" fill="#f98c71"/>
<rect x="214.35" y="279.40" width="33.95" height="1.80" fill="#fbc4ab"/>
<rect x="214.35" y="280.90" width="33.95" height="2.50" fill="#fcb496"/>
<rect x="214.35" y="283.10" width="33.95" height="2.10" fill="#e9453a"/>
<rect x="214.35" y="284.90" width="33.95" height="1.50" fill="#ee503f"/>
<rect x="214.35" y="286.10" width="33.95" height="2.10" fill="#f25943"/>
<rect x="214.35" y="287.90" width="33.95" height="1.50" fill="#c21b2b"/>
<rect x="214.35" y="289.10" width="33.95" height="1.80" fill="#b6152a"/>
<rect x="214.35" y="290.60" width="33.95" height="1.50" fill="#bf1a2b"/>
<rect x="214.35" y="291.80" width="33.95" height="2.90" fill="#be192b"/>
<rect x="214.35" y="294.40" width="33.95" height="2.50" fill="#c81e2b"/>
<rect x="214.35" y="296.60" width="33.95" height="2.90" fill="#b11329"/>
<rect x="214.35" y="299.20" width="33.95" height="2.50" fill="#dd292e"/>
<rect x="214.35" y="301.40" width="33.95" height="1.80" fill="#e84239"/>
<rect x="214.35" y="302.90" width="33.95" height="2.90" fill="#e13332"/>
<rect x="214.35" y="305.50" width="33.95" height="1.80" fill="#f8856a"/>
<rect x="214.35" y="307.00" width="33.95" height="1.80" fill="#f25a44"/>
<rect x="214.35" y="308.50" width="33.95" height="2.90" fill="#f05541"/>
<rect x="214.35" y="311.10" width="33.95" height="1.50" fill="#f77c62"/>
<rect x="214.35" y="312.30" width="33.95" height="1.90" fill="#f77b60"/>
<rect x="214.35" y="313.90" width="33.95" height="2.10" fill="#0868ae"/>
<rect x="214.35" y="315.70" width="33.95" height="2.90" fill="#1492cd"/>
<rect x="214.35" y="318.30" width="33.95" height="2.90" fill="#1086c5"/>
<rect x="214.35" y="320.90" width="33.95" height="2.10" fill="#138fcb"/>
<rect x="214.35" y="322.70" width="33.95" height="2.50" fill="#0e7fc1"/>
<rect x="214.35" y="324.90" width="33.95" height="2.90" fill="#249dd3"/>
<rect x="214.35" y="327.50" width="33.95" height="1.50" fill="#2ba0d4"/>
<rect x="214.35" y="328.70" width="33.95" height="1.50" fill="#2da1d5"/>
<rect x="214.35" y="329.90" width="33.95" height="2.50" fill="#62bbdf"/>
<rect x="214.35" y="332.10" width="33.95" height="1.80" fill="#49afda"/>
<rect x="214.35" y="333.60" width="33.95" height="1.50" fill="#42abd9"/>
<rect x="214.35" y="334.80" width="33.95" height="2.50" fill="#269ed3"/>
<rect x="214.35" y="337.00" width="33.95" height="1.80" fill="#0a75b9"/>
<rect x="214.35" y="338.50" width="33.95" height="2.10" fill="#085ca2"/>
<rect x="214.35" y="340.30" width="33.95" height="2.90" fill="#0d7ec0"/>
<rect x="214.35" y="342.90" width="33.95" height="1.50" fill="#52b3dc"/>
<rect x="214.35" y="344.10" width="33.95" height="2.90" fill="#78c5e4"/>
<rect x="214.35" y="346.70" width="33.95" height="1.50" fill="#65bce0"/>
<rect x="214.35" y="347.90" width="33.95" height="2.10" fill="#67bde1"/>
<rect x="214.35" y="349.70" width="33.95" height="2.50" fill="#7dc8e5"/>
<rect x="214.35" y="351.90" width="33.95" height="2.90" fill="#afddee"/>
<rect x="214.35" y="354.50" width="33.95" height="2.10" fill="#9cd6eb"/>
<rect x="214.35" y="356.30" width="33.95" height="1.50" fill="#b7e0ef"/>
<rect x="214.35" y="357.50" width="33.95" height="2.50" fill="#9cd6eb"/>
<rect x="214.35" y="359.70" width="33.95" height="2.10" fill="#0a76ba"/>
<rect x="214.35" y="361.50" width="33.95" height="1.80" fill="#57b5dd"/>
<rect x="214.35" y="363.00" width="33.95" height="2.10" fill="#1189c7"/>
<rect x="214.35" y="364.80" width="33.95" height="1.50" fill="#0f83c3"/>
<rect x="214.35" y="366.00" width="33.95" height="1.50" fill="#138eca"/>
<rect x="214.35" y="367.20" width="33.95" height="2.50" fill="#1897d0"/>
<rect x="214.35" y="369.40" width="33.95" height="2.10" fill="#0e7fc0"/>
<rect x="214.35" y="371.20" width="33.95" height="2.50" fill="#1593ce"/>
<rect x="214.35" y="373.40" width="33.95" height="2.10" fill="#1695cf"/>
<rect x="214.35" y="375.20" width="33.95" height="2.10" fill="#0d7ec0"/>
<rect x="214.35" y="377.00" width="33.95" height="2.90" fill="#7ec8e5"/>
<rect x="214.35" y="379.60" width="33.95" height="2.90" fill="#75c4e3"/>
<rect x="214.35" y="382.20" width="33.95" height="2.50" fill="#a4d9ec"/>
<rect x="214.35" y="384.40" width="33.95" height="2.50" fill="#99d5ea"/>
<rect x="214.35" y="386.60" width="33.95" height="2.50" fill="#1d99d1"/>
<rect x="214.35" y="388.80" width="33.95" height="2.90" fill="#1593ce"/>
<rect x="214.35" y="391.40" width="33.95" height="1.50" fill="#65bce0"/>
<rect x="214.35" y="392.60" width="33.95" height="1.80" fill="#7fc9e5"/>
<rect x="214.35" y="394.10" width="33.95" height="1.80" fill="#c7e6f1"/>
<rect x="214.35" y="395.60" width="33.95" height="1.80" fill="#6ec1e2"/>
<rect x="214.35" y="397.10" width="33.95" height="2.50" fill="#b3dfee"/>
<rect x="214.35" y="399.30" width="33.95" height="1.80" fill="#abdced"/>
<rect x="214.35" y="400.80" width="33.95" height="2.10" fill="#dceef4"/>
<rect x="214.35" y="402.60" width="33.95" height="1.80" fill="#bbe2ef"/>
<rect x="214.35" y="404.10" width="33.95" height="2.90" fill="#e0eff5"/>
<rect x="214.35" y="406.70" width="33.95" height="2.10" fill="#b7e0ef"/>
<rect x="214.35" y="408.50" width="33.95" height="2.50" fill="#7ac6e4"/>
<rect x="214.35" y="410.70" width="33.95" height="1.50" fill="#9dd7eb"/>
<rect x="214.35" y="411.90" width="33.95" height="2.10" fill="#79c6e4"/>
<rect x="214.35" y="413.70" width="33.95" height="2.50" fill="#9ad5eb"/>
<rect x="214.35" y="415.90" width="33.95" height="1.50" fill="#cbe8f2"/>
<rect x="214.35" y="417.10" width="33.95" height="1.50" fill="#8ccfe8"/>
<rect x="214.35" y="418.30" width="33.95" height="1.80" fill="#0868ae"/>
<rect x="214.35" y="419.80" width="33.95" height="1.80" fill="#0d7ec0"/>
<rect x="214.35" y="421.30" width="33.95" height="1.80" fill="#0f83c3"/>
<rect x="214.35" y="422.80" width="33.95" height="2.50" fill="#1189c7"/>
<rect x="214.35" y="425.00" width="33.95" height="2.50" fill="#086eb4"/>
<rect x="214.35" y="427.20" width="33.95" height="1.50" fill="#0e82c2"/>
<rect x="214.35" y="428.40" width="33.95" height="2.90" fill="#086bb1"/>
<rect x="214.35" y="431.00" width="33.95" height="2.90" fill="#0862a8"/>
<rect x="214.35" y="433.60" width="33.95" height="2.90" fill="#0972b7"/>
<rect x="214.35" y="436.20" width="33.95" height="2.90" fill="#08579d"/>
<rect x="214.35" y="438.80" width="33.95" height="1.80" fill="#1594ce"/>
<rect x="214.35" y="440.30" width="33.95" height="2.90" fill="#1592cd"/>
<rect x="214.35" y="442.90" width="33.95" height="1.80" fill="#42abd9"/>
<rect x="214.35" y="444.40" width="33.95" height="1.80" fill="#128ac8"/>
<rect x="214.35" y="445.90" width="33.95" height="1.50" fill="#0972b8"/>
<rect x="214.35" y="447.10" width="33.95" height="1.80" fill="#0e81c1"/>
<rect x="214.35" y="448.60" width="33.95" height="1.80" fill="#0f84c4"/>
<rect x="214.35" y="450.10" width="33.95" height="1.50" fill="#1189c7"/>
<rect x="214.35" y="451.30" width="33.95" height="2.10" fill="#1491cd"/>
<rect x="214.35" y="453.10" width="33.95" height="2.50" fill="#6cc0e2"/>
<rect x="214.35" y="455.30" width="33.95" height="1.80" fill="#1997d1"/>
<rect x="214.35" y="456.80" width="33.95" height="2.50" fill="#148fcb"/>
<rect x="214.35" y="459.00" width="33.95" height="1.80" fill="#209bd2"/>
<rect x="214.35" y="460.50" width="33.95" height="2.50" fill="#cde8f2"/>
<rect x="214.35" y="462.70" width="33.95" height="1.80" fill="#a3d9ec"/>
<rect x="214.35" y="464.20" width="33.95" height="2.50" fill="#aedded"/>
<rect x="214.35" y="466.40" width="33.95" height="2.90" fill="#38a6d7"/>
<rect x="214.35" y="469.00" width="33.95" height="2.10" fill="#1189c7"/>
<rect x="214.35" y="470.80" width="33.95" height="1.50" fill="#b8e1ef"/>
<rect x="214.35" y="472.00" width="33.95" height="2.50" fill="#32a3d6"/>
<rect x="214.35" y="474.20" width="33.95" height="2.90" fill="#148fcb"/>
<rect x="214.35" y="476.80" width="33.95" height="2.50" fill="#0871b6"/>
<rect x="214.35" y="479.00" width="33.95" height="0.70" fill="#1085c4"/>
<line x1="62.9" y1="257.8" x2="62.9" y2="254.6" stroke="#222" stroke-width="0.6"/>
<line x1="96.6" y1="257.8" x2="96.6" y2="254.6" stroke="#222" stroke-width="0.6"/>
<line x1="62.9" y1="254.6" x2="96.6" y2="254.6" stroke="#222" stroke-width="0.6"/>
<line x1="79.8" y1="254.6" x2="79.8" y2="254.3" stroke="#222" stroke-width="0.6"/>
<line x1="130.2" y1="257.8" x2="130.2" y2="254.3" stroke="#222" stroke-width="0.6"/>
<line x1="79.8" y1="254.3" x2="130.2" y2="254.3" stroke="#222" stroke-width="0.6"/>
<line x1="163.9" y1="257.8" x2="163.9" y2="254.6" stroke="#222" stroke-width="0.6"/>
<line x1="197.5" y1="257.8" x2="197.5" y2="254.6" stroke="#222" stroke-width="0.6"/>
<line x1="163.9" y1="254.6" x2="197.5" y2="254.6" stroke="#222" stroke-width="0.6"/>
<line x1="180.7" y1="254.6" x2="180.7" y2="254.3" stroke="#222" stroke-width="0.6"/>
<line x1="231.2" y1="257.8" x2="231.2" y2="254.3" stroke="#222" stroke-width="0.6"/>
<line x1="180.7" y1="254.3" x2="231.2" y2="254.3" stroke="#222" stroke-width="0.6"/>
<line x1="105.0" y1="254.3" x2="105.0" y2="248.4" stroke="#222" stroke-width="0.6"/>
<line x1="205.9" y1="254.3" x2="205.9" y2="248.4" stroke="#222" stroke-width="0.6"/>
<line x1="105.0" y1="248.4" x2="205.9" y2="248.4" stroke="#222" stroke-width="0.6"/>
<path d="M46.00 258.01H44.48V258.74H46.00M44.48 258.37H43.73V259.83H46.00M46.00 261.43H44.27V262.09H46.00M46.00 260.79H44.03V261.76H44.27M43.73 259.10H43.17V261.28H44.03M46.00 262.78H44.17V263.63H46.00M44.17 263.20H43.60V264.84H46.00M46.00 265.98H44.20V266.78H46.00M46.00 267.30H44.22V268.06H46.00M44.20 266.38H43.64V267.68H44.22M43.60 264.02H43.07V267.03H43.64M43.17 260.19H42.58V265.52H43.07M46.00 269.03H44.25V269.72H46.00M44.25 269.37H44.05V270.30H46.00M44.05 269.84H43.53V271.25H46.00M46.00 272.48H44.12V273.30H46.00M46.00 273.80H44.25V274.72H46.00M44.12 272.89H43.65V274.26H44.25M43.53 270.54H42.77V273.58H43.65M46.00 275.78H44.38V276.51H46.00M46.00 277.25H44.25V278.09H46.00M44.38 276.14H43.70V277.67H44.25M42.77 272.06H42.51V276.91H43.70M42.58 262.86H41.76V274.48H42.51M46.00 280.05H44.23V280.75H46.00M44.23 280.40H44.01V281.28H46.00M46.00 279.02H43.60V280.84H44.01M46.00 282.86H44.33V283.57H46.00M46.00 282.00H44.05V283.21H44.33M43.60 279.93H43.28V282.61H44.05M46.00 284.42H44.00V285.32H46.00M43.28 281.27H42.99V284.87H44.00M46.00 286.12H44.09V287.22H46.00M44.09 286.67H43.65V288.40H46.00M42.99 283.07H42.39V287.54H43.65M46.00 290.36H44.16V291.41H46.00M46.00 289.39H43.67V290.89H44.16M46.00 292.15H44.30V292.80H46.00M43.67 290.14H43.24V292.48H44.30M42.39 285.30H42.13V291.31H43.24M46.00 294.68H44.13V295.78H46.00M46.00 293.63H43.77V295.23H44.13M46.00 296.84H44.14V297.87H46.00M46.00 299.62H44.21V300.52H46.00M46.00 298.67H43.74V300.07H44.21M44.14 297.36H43.19V299.37H43.74M43.77 294.43H42.83V298.36H43.19M46.00 302.37H44.36V303.03H46.00M46.00 301.42H43.82V302.70H44.36M42.83 296.40H42.49V302.06H43.82M42.13 288.30H41.56V299.23H42.49M46.00 303.90H44.24V304.79H46.00M46.00 305.54H43.90V306.57H46.00M44.24 304.34H43.47V306.06H43.90M46.00 308.02H44.30V308.76H46.00M46.00 307.43H44.10V308.39H44.30M46.00 309.66H44.12V310.55H46.00M44.10 307.91H43.62V310.11H44.12M43.47 305.20H42.76V309.01H43.62M46.00 311.37H44.39V312.08H46.00M46.00 312.84H44.22V313.60H46.00M44.39 311.73H43.86V313.22H44.22M42.76 307.10H42.56V312.47H43.86M41.56 293.77H41.19V309.79H42.56M41.76 268.67H40.99V301.78H41.19M46.00 315.44H44.17V316.29H46.00M46.00 314.48H43.80V315.87H44.17M46.00 317.30H44.37V318.13H46.00M46.00 319.00H43.94V320.06H46.00M44.37 317.72H43.54V319.53H43.94M43.80 315.18H43.01V318.63H43.54M46.00 321.70H44.24V322.46H46.00M46.00 320.95H44.04V322.08H44.24M46.00 323.20H44.15V324.01H46.00M46.00 325.03H43.83V326.19H46.00M44.15 323.61H43.54V325.61H43.83M44.04 321.52H43.04V324.61H43.54M46.00 327.12H44.49V327.78H46.00M44.49 327.45H44.22V328.43H46.00M46.00 329.08H44.45V329.79H46.00M44.22 327.94H43.51V329.44H44.45M43.04 323.06H42.46V328.69H43.51M43.01 316.90H42.12V325.88H42.46M46.00 330.78H44.13V331.76H46.00M46.00 332.33H44.39V333.06H46.00M44.13 331.27H43.49V332.70H44.39M46.00 333.92H44.19V334.83H46.00M43.49 331.98H43.19V334.37H44.19M46.00 336.00H44.30V336.86H46.00M46.00 338.19H44.17V338.96H46.00M46.00 337.37H43.89V338.57H44.17M44.30 336.43H43.50V337.97H43.89M46.00 340.46H44.22V341.20H46.00M46.00 339.59H43.89V340.83H44.22M43.89 340.21H43.63V341.94H46.00M43.63 341.07H43.39V343.01H46.00M43.50 337.20H42.76V342.04H43.39M43.19 333.18H42.30V339.62H42.76M42.12 321.39H41.55V336.40H42.30M46.00 345.35H44.25V346.05H46.00M44.25 345.70H43.81V346.72H46.00M43.81 346.21H43.59V347.68H46.00M46.00 344.24H43.39V346.94H43.59M46.00 348.42H44.37V349.17H46.00M44.37 348.79H43.86V350.12H46.00M43.39 345.59H42.88V349.46H43.86M46.00 350.98H44.16V351.96H46.00M46.00 353.06H44.28V353.84H46.00M44.16 351.47H43.47V353.45H44.28M46.00 354.38H44.47V355.07H46.00M43.47 352.46H43.22V354.72H44.47M46.00 357.33H44.14V358.15H46.00M44.14 357.74H43.76V358.84H46.00M46.00 356.10H43.56V358.29H43.76M46.00 359.85H43.96V360.84H46.00M43.56 357.20H43.20V360.35H43.96M43.22 353.59H42.52V358.77H43.20M42.88 347.52H42.01V356.18H42.52M46.00 361.82H44.35V362.67H46.00M46.00 363.68H44.53V364.33H46.00M46.00 363.23H44.29V364.01H44.53M44.35 362.25H43.41V363.62H44.29M46.00 366.08H44.14V367.06H46.00M46.00 365.18H43.83V366.57H44.14M46.00 367.83H44.37V368.49H46.00M43.83 365.88H43.38V368.16H44.37M43.41 362.93H42.84V367.02H43.38M46.00 370.12H44.32V370.85H46.00M46.00 369.38H43.81V370.49H44.32M46.00 372.20H44.36V372.94H46.00M46.00 371.65H44.01V372.57H44.36M46.00 373.79H44.12V374.64H46.00M44.12 374.22H43.78V375.58H46.00M44.01 372.11H43.29V374.90H43.78M43.81 369.93H42.89V373.50H43.29M42.84 364.98H42.13V371.72H42.89M42.01 351.85H41.27V368.35H42.13M41.55 328.89H41.07V360.10H41.27M46.00 378.46H44.30V379.12H46.00M46.00 377.60H43.76V378.79H44.30M46.00 376.54H43.56V378.19H43.76M46.00 379.99H44.32V380.80H46.00M44.32 380.39H43.95V381.43H46.00M43.56 377.37H43.19V380.91H43.95M46.00 382.23H44.31V382.93H46.00M44.31 382.58H43.98V383.50H46.00M46.00 384.20H44.45V384.93H46.00M43.98 383.04H43.53V384.56H44.45M46.00 385.95H44.30V386.64H46.00M46.00 385.50H44.10V386.29H44.30M43.53 383.80H43.27V385.90H44.10M43.19 379.14H42.54V384.85H43.27M46.00 389.41H44.26V390.15H46.00M46.00 388.58H43.90V389.78H44.26M43.90 389.18H43.50V390.93H46.00M46.00 387.67H43.30V390.05H43.50M46.00 391.93H44.32V392.66H46.00M46.00 394.21H44.07V395.06H46.00M46.00 393.31H43.87V394.64H44.07M46.00 395.71H44.25V396.50H46.00M43.87 393.97H43.32V396.10H44.25M44.32 392.30H43.12V395.04H43.32M46.00 398.34H44.05V399.32H46.00M46.00 397.47H43.63V398.83H44.05M43.12 393.67H42.72V398.15H43.63M43.30 388.86H42.31V395.91H42.72M46.00 401.38H44.44V402.12H46.00M46.00 400.49H43.84V401.75H44.44M46.00 403.05H43.85V404.23H46.00M43.85 403.64H43.65V405.28H46.00M43.84 401.12H43.02V404.46H43.65M42.31 392.39H41.82V402.79H43.02M42.54 381.99H41.37V397.59H41.82M46.00 407.86H44.17V408.62H46.00M46.00 407.06H43.97V408.24H44.17M46.00 406.22H43.66V407.65H43.97M46.00 409.32H44.47V410.01H46.00M43.66 406.93H43.37V409.67H44.47M46.00 412.09H44.02V413.21H46.00M46.00 410.88H43.65V412.65H44.02M43.37 408.30H42.69V411.77H43.65M46.00 414.05H44.23V414.77H46.00M44.23 414.41H43.88V415.64H46.00M46.00 416.36H44.51V417.06H46.00M46.00 418.05H44.00V419.17H46.00M44.51 416.71H43.62V418.61H44.00M43.88 415.02H43.07V417.66H43.62M46.00 421.09H44.51V421.76H46.00M46.00 420.20H43.81V421.43H44.51M43.07 416.34H42.72V420.82H43.81M42.69 410.03H42.00V418.58H42.72M46.00 422.44H44.10V423.33H46.00M46.00 424.32H44.29V425.11H46.00M44.10 422.88H43.52V424.71H44.29M46.00 426.00H44.20V426.86H46.00M43.52 423.80H43.28V426.43H44.20M46.00 428.51H44.20V429.31H46.00M46.00 427.56H43.72V428.91H44.20M43.28 425.11H42.69V428.24H43.72M46.00 431.04H44.17V432.03H46.00M46.00 430.15H43.64V431.54H44.17M46.00 434.08H44.36V434.84H46.00M46.00 433.10H43.92V434.46H44.36M43.92 433.78H43.50V435.60H46.00M46.00 436.36H44.36V437.18H46.00M43.50 434.69H43.09V436.77H44.36M43.64 430.84H42.79V435.73H43.09M42.69 426.67H42.10V433.29H42.79M42.00 414.31H41.32V429.98H42.10M41.37 389.79H41.10V422.14H41.32M46.00 438.27H44.13V439.30H46.00M46.00 440.46H43.79V441.63H46.00M44.13 438.78H43.37V441.04H43.79M46.00 444.41H44.50V445.09H46.00M46.00 443.59H43.86V444.75H44.50M46.00 442.66H43.52V444.17H43.86M46.00 446.58H44.23V447.32H46.00M44.23 446.95H43.96V448.02H46.00M46.00 445.81H43.76V447.49H43.96M43.52 443.41H42.96V446.65H43.76M43.37 439.91H42.42V445.03H42.96M46.00 448.85H44.15V449.90H46.00M46.00 450.77H44.37V451.50H46.00M44.15 449.38H43.48V451.13H44.37M46.00 452.26H44.39V452.92H46.00M43.48 450.25H43.28V452.59H44.39M46.00 453.65H44.32V454.48H46.00M44.32 454.07H43.62V455.46H46.00M43.28 451.42H42.73V454.77H43.62M46.00 457.37H44.05V458.32H46.00M46.00 456.53H43.74V457.85H44.05M43.74 457.19H43.44V459.43H46.00M46.00 461.19H44.49V461.89H46.00M46.00 460.47H43.85V461.54H44.49M46.00 462.78H44.17V463.59H46.00M44.17 463.18H43.88V464.46H46.00M43.85 461.00H43.29V463.82H43.88M46.00 465.49H44.38V466.31H46.00M46.00 467.08H44.12V468.10H46.00M44.38 465.90H43.43V467.59H44.12M43.29 462.41H42.71V466.74H43.43M43.44 458.31H42.34V464.58H42.71M42.73 453.09H41.83V461.44H42.34M46.00 469.13H44.41V469.89H46.00M46.00 470.53H44.17V471.56H46.00M44.41 469.51H43.65V471.04H44.17M46.00 472.59H44.51V473.24H46.00M44.51 472.91H44.14V473.86H46.00M43.65 470.28H43.12V473.39H44.14M46.00 474.59H44.52V475.25H46.00M44.52 474.92H44.05V475.95H46.00M44.05 475.43H43.73V476.89H46.00M46.00 477.95H44.07V478.92H46.00M43.73 476.16H43.27V478.44H44.07M43.12 471.83H42.52V477.30H43.27M41.83 457.27H41.29V474.57H42.52M42.42 442.47H41.09V465.92H41.29M41.10 405.97H40.89V454.19H41.09M41.07 344.50H40.69V430.08H40.89" stroke="#000" stroke-width="0.8" fill="none"/>
<line x1="41.0" y1="284.1" x2="34.0" y2="284.1" stroke="#666" stroke-width="0.7"/>
<line x1="34.0" y1="284.1" x2="34.0" y2="421.1" stroke="#666" stroke-width="0.7"/>
<line x1="34.0" y1="421.1" x2="40.7" y2="421.1" stroke="#666" stroke-width="0.7"/>
<text x="62.9" y="489.5" font-size="8.4" text-anchor="middle" font-weight="400" fill="#222" >rep-2</text>
<text x="96.6" y="489.5" font-size="8.4" text-anchor="middle" font-weight="400" fill="#222" >rep-1</text>
<text x="130.2" y="489.5" font-size="8.4" text-anchor="middle" font-weight="400" fill="#222" >rep-3</text>
<text x="163.9" y="489.5" font-size="8.4" text-anchor="middle" font-weight="400" fill="#222" >rep-3</text>
<text x="197.5" y="489.5" font-size="8.4" text-anchor="middle" font-weight="400" fill="#222" >rep-1</text>
<text x="231.2" y="489.5" font-size="8.4" text-anchor="middle" font-weight="400" fill="#222" >rep-2</text>
<line x1="47.0" y1="491.8" x2="146.0" y2="491.8" stroke="#333" stroke-width="0.9"/>
<line x1="149.0" y1="491.8" x2="248.3" y2="491.8" stroke="#333" stroke-width="0.9"/>
<text x="95.0" y="501.9" font-size="9.2" text-anchor="middle" font-weight="700" fill="#000" >WT</text>
<text x="196.0" y="501.7" font-size="9.1" text-anchor="middle" font-weight="700" fill="#000" >SDS2-ACT</text>
<defs><linearGradient id="ck" x1="0" y1="1" x2="0" y2="0"><stop offset="0.000" stop-color="#083c82"/><stop offset="0.125" stop-color="#0870b6"/><stop offset="0.250" stop-color="#1696d0"/><stop offset="0.375" stop-color="#96d4ea"/><stop offset="0.500" stop-color="#f8f8f8"/><stop offset="0.625" stop-color="#fcb99b"/><stop offset="0.750" stop-color="#f55f46"/><stop offset="0.875" stop-color="#dc282d"/><stop offset="1.000" stop-color="#a00a28"/></linearGradient>
<linearGradient id="fdr" x1="0" y1="1" x2="0" y2="0"><stop offset="0" stop-color="#b80f58"/><stop offset="0.5" stop-color="#7f6f92"/><stop offset="1" stop-color="#10cde0"/></linearGradient></defs>
<rect x="251.9" y="437.9" width="6" height="40.3" fill="url(#ck)"/>
<text x="258.2" y="443.2" font-size="6" text-anchor="start" font-weight="400" fill="#222" >2</text>
<text x="258.2" y="452.1" font-size="6" text-anchor="start" font-weight="400" fill="#222" >1</text>
<text x="258.2" y="461.0" font-size="6" text-anchor="start" font-weight="400" fill="#222" >0</text>
<text x="258.2" y="470.0" font-size="6" text-anchor="start" font-weight="400" fill="#222" >-1</text>
<text x="258.2" y="478.9" font-size="6" text-anchor="start" font-weight="400" fill="#222" >-2</text>
<text x="466.7" y="250.4" font-size="7.7" text-anchor="middle" font-weight="700" fill="#000" >GO Biological Process Enrichment</text>
<line x1="428.4" y1="252.0" x2="428.4" y2="488.8" stroke="#f3f3f3" stroke-width="0.5"/>
<line x1="444.4" y1="252.0" x2="444.4" y2="488.8" stroke="#f3f3f3" stroke-width="0.5"/>
<line x1="460.4" y1="252.0" x2="460.4" y2="488.8" stroke="#f3f3f3" stroke-width="0.5"/>
<line x1="476.4" y1="252.0" x2="476.4" y2="488.8" stroke="#f3f3f3" stroke-width="0.5"/>
<line x1="492.4" y1="252.0" x2="492.4" y2="488.8" stroke="#f3f3f3" stroke-width="0.5"/>
<line x1="508.4" y1="252.0" x2="508.4" y2="488.8" stroke="#f3f3f3" stroke-width="0.5"/>
<line x1="436.4" y1="252.0" x2="436.4" y2="488.8" stroke="#e8e8e8" stroke-width="0.7"/>
<line x1="452.4" y1="252.0" x2="452.4" y2="488.8" stroke="#e8e8e8" stroke-width="0.7"/>
<line x1="468.4" y1="252.0" x2="468.4" y2="488.8" stroke="#e8e8e8" stroke-width="0.7"/>
<line x1="484.4" y1="252.0" x2="484.4" y2="488.8" stroke="#e8e8e8" stroke-width="0.7"/>
<line x1="500.4" y1="252.0" x2="500.4" y2="488.8" stroke="#e8e8e8" stroke-width="0.7"/>
<line x1="424.5" y1="262.5" x2="515.0" y2="262.5" stroke="#e8e8e8" stroke-width="0.7"/>
<line x1="424.5" y1="280.5" x2="515.0" y2="280.5" stroke="#e8e8e8" stroke-width="0.7"/>
<line x1="424.5" y1="298.5" x2="515.0" y2="298.5" stroke="#e8e8e8" stroke-width="0.7"/>
<line x1="424.5" y1="316.6" x2="515.0" y2="316.6" stroke="#e8e8e8" stroke-width="0.7"/>
<line x1="424.5" y1="334.6" x2="515.0" y2="334.6" stroke="#e8e8e8" stroke-width="0.7"/>
<line x1="424.5" y1="352.6" x2="515.0" y2="352.6" stroke="#e8e8e8" stroke-width="0.7"/>
<line x1="424.5" y1="370.6" x2="515.0" y2="370.6" stroke="#e8e8e8" stroke-width="0.7"/>
<line x1="424.5" y1="388.6" x2="515.0" y2="388.6" stroke="#e8e8e8" stroke-width="0.7"/>
<line x1="424.5" y1="406.7" x2="515.0" y2="406.7" stroke="#e8e8e8" stroke-width="0.7"/>
<line x1="424.5" y1="424.7" x2="515.0" y2="424.7" stroke="#e8e8e8" stroke-width="0.7"/>
<line x1="424.5" y1="442.7" x2="515.0" y2="442.7" stroke="#e8e8e8" stroke-width="0.7"/>
<line x1="424.5" y1="460.7" x2="515.0" y2="460.7" stroke="#e8e8e8" stroke-width="0.7"/>
<line x1="424.5" y1="478.7" x2="515.0" y2="478.7" stroke="#e8e8e8" stroke-width="0.7"/>
<circle cx="438.4" cy="262.5" r="2.8" fill="#8a8a8a"/>
<circle cx="436.1" cy="280.5" r="2.6" fill="#8a8a8a"/>
<circle cx="459.7" cy="298.5" r="4.4" fill="#a8185a"/>
<circle cx="428.7" cy="316.6" r="1.3" fill="#b0105a"/>
<circle cx="508.7" cy="334.6" r="6.1" fill="#9c3464"/>
<circle cx="483.1" cy="352.6" r="5.2" fill="#a02c62"/>
<circle cx="433.7" cy="370.6" r="2.6" fill="#a8306a"/>
<circle cx="471.3" cy="388.6" r="4.7" fill="#a02c60"/>
<circle cx="446.0" cy="406.7" r="3.5" fill="#a03a6a"/>
<circle cx="433.7" cy="424.7" r="2.35" fill="#9e4c7a"/>
<circle cx="429.8" cy="442.7" r="1.8" fill="#a24272"/>
<circle cx="444.9" cy="460.7" r="3.3" fill="#73839c"/>
<circle cx="498.7" cy="478.7" r="5.9" fill="#12c4da"/>
<rect x="424.5" y="252.0" width="90.5" height="236.8" fill="none" stroke="#555" stroke-width="0.9"/>
<line x1="422.3" y1="262.5" x2="424.5" y2="262.5" stroke="#333" stroke-width="0.7"/>
<text x="421.6" y="264.9" font-size="6.7" text-anchor="end" font-weight="400" fill="#222" >Phosphorylation</text>
<line x1="422.3" y1="280.5" x2="424.5" y2="280.5" stroke="#333" stroke-width="0.7"/>
<text x="421.6" y="282.9" font-size="6.7" text-anchor="end" font-weight="400" fill="#222" >Post-translational protein modification</text>
<line x1="422.3" y1="298.5" x2="424.5" y2="298.5" stroke="#333" stroke-width="0.7"/>
<text x="421.6" y="301.0" font-size="6.7" text-anchor="end" font-weight="400" fill="#222" >Cell recognition</text>
<line x1="422.3" y1="316.6" x2="424.5" y2="316.6" stroke="#333" stroke-width="0.7"/>
<text x="421.6" y="319.0" font-size="6.7" text-anchor="end" font-weight="400" fill="#222" >Oxidation reduction</text>
<line x1="422.3" y1="334.6" x2="424.5" y2="334.6" stroke="#333" stroke-width="0.7"/>
<text x="421.6" y="337.0" font-size="6.7" text-anchor="end" font-weight="400" fill="#222" >Chitin metabolic process</text>
<line x1="422.3" y1="352.6" x2="424.5" y2="352.6" stroke="#333" stroke-width="0.7"/>
<text x="421.6" y="355.0" font-size="6.7" text-anchor="end" font-weight="400" fill="#222" >Cell wall macromolecule metabolic process</text>
<line x1="422.3" y1="370.6" x2="424.5" y2="370.6" stroke="#333" stroke-width="0.7"/>
<text x="421.6" y="373.0" font-size="6.7" text-anchor="end" font-weight="400" fill="#222" >Programmed cell death</text>
<line x1="422.3" y1="388.6" x2="424.5" y2="388.6" stroke="#333" stroke-width="0.7"/>
<text x="421.6" y="391.1" font-size="6.7" text-anchor="end" font-weight="400" fill="#222" >Negative regulation of molecular function</text>
<line x1="422.3" y1="406.7" x2="424.5" y2="406.7" stroke="#333" stroke-width="0.7"/>
<text x="421.6" y="409.1" font-size="6.7" text-anchor="end" font-weight="400" fill="#222" >Cell communication</text>
<line x1="422.3" y1="424.7" x2="424.5" y2="424.7" stroke="#333" stroke-width="0.7"/>
<text x="421.6" y="427.1" font-size="6.7" text-anchor="end" font-weight="400" fill="#222" >Defense response</text>
<line x1="422.3" y1="442.7" x2="424.5" y2="442.7" stroke="#333" stroke-width="0.7"/>
<text x="421.6" y="445.1" font-size="6.7" text-anchor="end" font-weight="400" fill="#222" >Carbohydrate metabolic process</text>
<line x1="422.3" y1="460.7" x2="424.5" y2="460.7" stroke="#333" stroke-width="0.7"/>
<text x="421.6" y="463.1" font-size="6.7" text-anchor="end" font-weight="400" fill="#222" >Cellular aromatic compound metabolic process</text>
<line x1="422.3" y1="478.7" x2="424.5" y2="478.7" stroke="#333" stroke-width="0.7"/>
<text x="421.6" y="481.2" font-size="6.7" text-anchor="end" font-weight="400" fill="#222" >L-phenylalanine metabolic process</text>
<line x1="436.4" y1="488.8" x2="436.4" y2="490.8" stroke="#333" stroke-width="0.7"/>
<line x1="452.4" y1="488.8" x2="452.4" y2="490.8" stroke="#333" stroke-width="0.7"/>
<line x1="468.4" y1="488.8" x2="468.4" y2="490.8" stroke="#333" stroke-width="0.7"/>
<line x1="484.4" y1="488.8" x2="484.4" y2="490.8" stroke="#333" stroke-width="0.7"/>
<line x1="500.4" y1="488.8" x2="500.4" y2="490.8" stroke="#333" stroke-width="0.7"/>
<text x="436.4" y="497.3" font-size="5.8" text-anchor="middle" font-weight="400" fill="#333" >2</text>
<text x="454.5" y="497.3" font-size="5.8" text-anchor="middle" font-weight="400" fill="#333" >3</text>
<text x="471.8" y="497.3" font-size="5.8" text-anchor="middle" font-weight="400" fill="#333" >4</text>
<text x="490.0" y="497.3" font-size="5.8" text-anchor="middle" font-weight="400" fill="#333" >5</text>
<text x="500.0" y="497.3" font-size="5.8" text-anchor="middle" font-weight="400" fill="#333" >6</text>
<text x="470.9" y="505.7" font-size="9.3" text-anchor="middle" font-weight="400" fill="#000" >Fold enrichment</text>
<text x="518.1" y="305.9" font-size="5.8" text-anchor="start" font-weight="400" fill="#222" >Fold</text>
<text x="518.1" y="312.5" font-size="5.8" text-anchor="start" font-weight="400" fill="#222" >enrichment</text>
<circle cx="525.7" cy="318.7" r="2.8" fill="#000"/>
<text x="535.5" y="320.8" font-size="5.8" text-anchor="start" font-weight="400" fill="#222" >2</text>
<circle cx="525.7" cy="327.7" r="3.8" fill="#000"/>
<text x="535.5" y="329.8" font-size="5.8" text-anchor="start" font-weight="400" fill="#222" >3</text>
<circle cx="525.7" cy="338.4" r="4.7" fill="#000"/>
<text x="535.5" y="340.5" font-size="5.8" text-anchor="start" font-weight="400" fill="#222" >4</text>
<circle cx="525.7" cy="350.9" r="5.6" fill="#000"/>
<text x="535.5" y="353.0" font-size="5.8" text-anchor="start" font-weight="400" fill="#222" >5</text>
<circle cx="525.7" cy="366.0" r="6.4" fill="#000"/>
<text x="535.5" y="368.1" font-size="5.8" text-anchor="start" font-weight="400" fill="#222" >6</text>
<text x="517.9" y="393.8" font-size="5.8" text-anchor="start" font-weight="400" fill="#222" >FDR</text>
<rect x="517.9" y="396.2" width="8.1" height="40.1" fill="url(#fdr)"/>
<text x="527.6" y="405.5" font-size="5.6" text-anchor="start" font-weight="400" fill="#222" >0.06</text>
<text x="527.6" y="416.9" font-size="5.6" text-anchor="start" font-weight="400" fill="#222" >0.04</text>
<text x="527.6" y="427.8" font-size="5.6" text-anchor="start" font-weight="400" fill="#222" >0.02</text>
</svg></body></html>
